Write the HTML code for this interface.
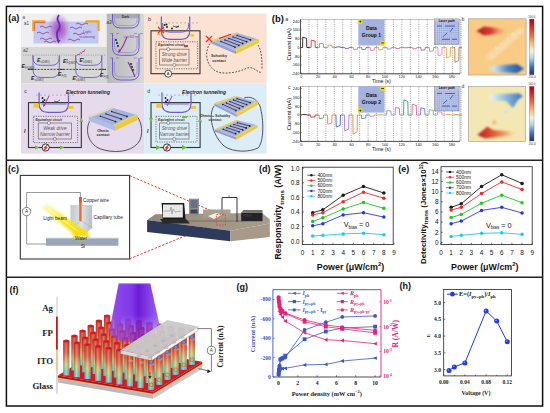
<!DOCTYPE html>
<html><head><meta charset="utf-8"><style>html,body{margin:0;padding:0;background:#fff;width:550px;height:413px;overflow:hidden}svg{display:block}</style></head>
<body><svg width="550" height="413" viewBox="0 0 550 413"><rect x="0" y="0" width="550" height="413" fill="#fff"/>
<rect x="6.4" y="6.4" width="536.2" height="399.6" fill="none" stroke="#111" stroke-width="1.5"/>
<line x1="6" y1="160.3" x2="543" y2="160.3" stroke="#222" stroke-width="1.4"/>
<line x1="6" y1="277.2" x2="543" y2="277.2" stroke="#222" stroke-width="1.4"/>
<rect x="21" y="13.6" width="85.7" height="33.2" fill="#efeff2"/>
<rect x="21" y="46.8" width="85.7" height="36.6" fill="#d7d7d8"/>
<defs><linearGradient id="ga3" x1="0" y1="0" x2="1" y2="0"><stop offset="0" stop-color="#b9b9ba"/><stop offset="0.6" stop-color="#c9c9ca"/><stop offset="1" stop-color="#d9d9da"/></linearGradient><radialGradient id="beam" cx="0.5" cy="0.5" r="0.5"><stop offset="0" stop-color="#9a3ab8" stop-opacity="0.95"/><stop offset="0.5" stop-color="#b060c8" stop-opacity="0.65"/><stop offset="1" stop-color="#d0a0e0" stop-opacity="0"/></radialGradient></defs>
<rect x="106.7" y="13.6" width="37.5" height="69.8" fill="url(#ga3)"/>
<rect x="144.2" y="13.6" width="122.4" height="69.9" fill="#fce2d2"/>
<rect x="21" y="83.4" width="123.2" height="70.2" fill="#e5dbec"/>
<rect x="144.2" y="83.5" width="122.4" height="70.1" fill="#dcedf7"/>
<text x="22.50" y="18.60" text-anchor="start" style="font-family:'Liberation Sans',sans-serif;font-weight:normal;font-size:4.5px" fill="#444">a</text>
<text x="24.00" y="25.00" text-anchor="start" style="font-family:'Liberation Sans',sans-serif;font-weight:normal;font-size:4.5px" fill="#444">a1</text>
<rect x="33.5" y="21.6" width="65" height="21.9" fill="#c3c9ec"/>
<path d="M33.3,31 L33.3,21.3 L45.5,21.3" fill="none" stroke="#f7a21e" stroke-width="2.2"/>
<path d="M34.6,31 L34.6,22.6 L45.5,22.6" fill="none" stroke="#e8402a" stroke-width="0.7"/>
<path d="M98.5,31 L98.5,21.3 L85.5,21.3" fill="none" stroke="#f7a21e" stroke-width="2.2"/>
<ellipse cx="59" cy="29.5" rx="12.5" ry="17" fill="url(#beam)"/>
<path d="M59,15 Q56,19 59,23 Q61,27 57.5,31 Q56,36 58.5,41" fill="none" stroke="#6a2aa8" stroke-width="1.8"/><path d="M56.5,40 L60.5,40 L58.5,43.5 Z" fill="#6a2aa8"/>
<path d="M40,27 q2,-2 4,0 q2,2 4,0 q2,-2 4,0" fill="none" stroke="#8a2a9c" stroke-width="0.75"/>
<path d="M37,33 q2,-2 4,0 q2,2 4,0 q2,-2 4,0" fill="none" stroke="#8a2a9c" stroke-width="0.75"/>
<path d="M40,39 q2,-2 4,0 q2,2 4,0 q2,-2 4,0" fill="none" stroke="#8a2a9c" stroke-width="0.75"/>
<path d="M44,42 q2,-2 4,0 q2,2 4,0 q2,-2 4,0" fill="none" stroke="#8a2a9c" stroke-width="0.75"/>
<path d="M70,28 q2,-2 4,0 q2,2 4,0 q2,-2 4,0" fill="none" stroke="#8a2a9c" stroke-width="0.75"/>
<path d="M73,34 q2,-2 4,0 q2,2 4,0 q2,-2 4,0" fill="none" stroke="#8a2a9c" stroke-width="0.75"/>
<path d="M68,40 q2,-2 4,0 q2,2 4,0 q2,-2 4,0" fill="none" stroke="#8a2a9c" stroke-width="0.75"/>
<path d="M76,24 q2,-2 4,0 q2,2 4,0 q2,-2 4,0" fill="none" stroke="#8a2a9c" stroke-width="0.75"/>
<text x="87.00" y="33.00" text-anchor="middle" style="font-family:'Liberation Sans',sans-serif;font-weight:normal;font-size:3.6px" fill="#7a3ab0">Light</text>
<text x="87.00" y="37.50" text-anchor="middle" style="font-family:'Liberation Sans',sans-serif;font-weight:normal;font-size:3.6px" fill="#7a3ab0">scattering</text>
<text x="23.00" y="51.50" text-anchor="start" style="font-family:'Liberation Sans',sans-serif;font-weight:normal;font-size:4.5px;font-style:italic" fill="#444">a2</text>
<line x1="23" y1="55.1" x2="106" y2="55.1" stroke="#777" stroke-width="0.6" stroke-dasharray="0.8,1"/>
<line x1="28" y1="69.4" x2="106" y2="69.4" stroke="#333" stroke-width="0.9" stroke-dasharray="2,1.2"/>
<line x1="28" y1="69.4" x2="34" y2="69.4" stroke="#333" stroke-width="0.9"/><line x1="58" y1="69.4" x2="64" y2="69.4" stroke="#333" stroke-width="0.9"/><line x1="100" y1="69.4" x2="106" y2="69.4" stroke="#333" stroke-width="0.9"/>
<path d="M33,55.5 L33,57.46 Q33,65.3 40.839999999999996,65.3 L51.46,65.3 Q59.3,65.3 59.3,57.46 L59.3,55.5" fill="none" stroke="#6b5bd0" stroke-width="0.9"/>
<path d="M33,55.5 L33,69.61 Q33,77.5 40.89,77.5 L51.41,77.5 Q59.3,77.5 59.3,69.61 L59.3,55.5" fill="none" stroke="#6b5bd0" stroke-width="0.9"/>
<path d="M75.6,55.5 L75.6,57.46 Q75.6,65.3 83.44,65.3 L93.96,65.3 Q101.8,65.3 101.8,57.46 L101.8,55.5" fill="none" stroke="#6b5bd0" stroke-width="0.9"/>
<path d="M75.6,55.5 L75.6,69.64 Q75.6,77.5 83.46,77.5 L93.94,77.5 Q101.8,77.5 101.8,69.64 L101.8,55.5" fill="none" stroke="#6b5bd0" stroke-width="0.9"/>
<text x="37.00" y="61.50" text-anchor="start" style="font-family:'Liberation Sans',sans-serif;font-weight:bold;font-size:5px;font-style:italic" fill="#222">E</text>
<text x="40.60" y="62.90" text-anchor="start" style="font-family:'Liberation Sans',sans-serif;font-weight:normal;font-size:2.6px" fill="#333">v(DMO)</text>
<text x="21.50" y="68.00" text-anchor="start" style="font-family:'Liberation Sans',sans-serif;font-weight:bold;font-size:5px;font-style:italic" fill="#222">E</text>
<text x="25.10" y="69.40" text-anchor="start" style="font-family:'Liberation Sans',sans-serif;font-weight:normal;font-size:2.6px" fill="#333">F(DMO)</text>
<text x="31.00" y="79.50" text-anchor="start" style="font-family:'Liberation Sans',sans-serif;font-weight:bold;font-size:5px;font-style:italic" fill="#222">E</text>
<text x="34.60" y="80.90" text-anchor="start" style="font-family:'Liberation Sans',sans-serif;font-weight:normal;font-size:2.6px" fill="#333">v(DMO)</text>
<text x="58.00" y="76.00" text-anchor="start" style="font-family:'Liberation Sans',sans-serif;font-weight:bold;font-size:5px;font-style:italic" fill="#222">E</text>
<text x="61.60" y="77.40" text-anchor="start" style="font-family:'Liberation Sans',sans-serif;font-weight:normal;font-size:2.6px" fill="#333">F(S)</text>
<text x="63.00" y="63.00" text-anchor="start" style="font-family:'Liberation Sans',sans-serif;font-weight:bold;font-size:5px;font-style:italic" fill="#222">E'</text>
<text x="66.60" y="64.40" text-anchor="start" style="font-family:'Liberation Sans',sans-serif;font-weight:normal;font-size:2.6px" fill="#333">F(DMO)</text>
<text x="79.50" y="61.50" text-anchor="start" style="font-family:'Liberation Sans',sans-serif;font-weight:bold;font-size:5px;font-style:italic" fill="#222">E'</text>
<text x="83.10" y="62.90" text-anchor="start" style="font-family:'Liberation Sans',sans-serif;font-weight:normal;font-size:2.6px" fill="#333">v(DMO)</text>
<text x="72.50" y="79.50" text-anchor="start" style="font-family:'Liberation Sans',sans-serif;font-weight:bold;font-size:5px;font-style:italic" fill="#222">E'</text>
<text x="76.10" y="80.90" text-anchor="start" style="font-family:'Liberation Sans',sans-serif;font-weight:normal;font-size:2.6px" fill="#333">v(DMO)</text>
<text x="100.00" y="77.00" text-anchor="start" style="font-family:'Liberation Sans',sans-serif;font-weight:bold;font-size:5px;font-style:italic" fill="#222">E</text>
<text x="103.60" y="78.40" text-anchor="start" style="font-family:'Liberation Sans',sans-serif;font-weight:normal;font-size:2.6px" fill="#333">F(S)</text>
<path d="M76.5,56 l1.5,-2 l1,1 l1.5,-2.5 l1,1 l1.5,-2.5 l1,0.8 l1,-2.5" fill="none" stroke="#9a2aa0" stroke-width="0.7"/>
<text x="106.50" y="24.00" text-anchor="start" style="font-family:'Liberation Sans',sans-serif;font-weight:normal;font-size:4.5px;font-style:italic" fill="#333">a3</text>
<rect x="113" y="13.8" width="25.5" height="4.5" fill="#a8a8b0"/>
<path d="M112.5,13.8 L112.5,20.05 Q112.5,28 120.45,28 L131.05,28 Q139,28 139,20.05 L139,13.8" fill="none" stroke="#6b5bd0" stroke-width="1.0"/>
<path d="M114.5,18.5 L114.5,19.9 Q114.5,25.5 120.1,25.5 L131.4,25.5 Q137,25.5 137,19.9 L137,18.5" fill="none" stroke="#8878d8" stroke-width="0.6"/>
<text x="125.50" y="18.00" text-anchor="middle" style="font-family:'Liberation Sans',sans-serif;font-weight:bold;font-size:3.4px" fill="#333">Dark</text>
<path d="M112.5,33.6 L112.5,47.349999999999994 Q112.5,55.3 120.45,55.3 L131.05,55.3 Q139,55.3 139,47.349999999999994 L139,33.6" fill="none" stroke="#6b5bd0" stroke-width="1.0"/>
<path d="M114.5,38 L114.5,45.75 Q114.5,52.5 121.25,52.5 L130.25,52.5 Q137,52.5 137,45.75 L137,38" fill="none" stroke="#8878d8" stroke-width="0.6"/>
<path d="M112.5,58 L112.5,72.05 Q112.5,80 120.45,80 L131.05,80 Q139,80 139,72.05 L139,58" fill="none" stroke="#6b5bd0" stroke-width="1.0"/>
<path d="M114.5,62 L114.5,70.25 Q114.5,77 121.25,77 L130.25,77 Q137,77 137,70.25 L137,62" fill="none" stroke="#8878d8" stroke-width="0.6"/>
<path d="M110,33.6 h3 M116,33.6 h3 M134,33.6 h3 M140,33.6 h3 M110,58 h3 M116,58 h3 M134,58 h3 M140,58 h3" stroke="#6b5bd0" stroke-width="0.6"/>
<text x="131.00" y="37.50" text-anchor="middle" style="font-family:'Liberation Sans',sans-serif;font-weight:normal;font-size:2.6px" fill="#8a3ab0">Light 808 nm</text>
<path d="M127,37 L123,46 L119,52" fill="none" stroke="#8a2ab0" stroke-width="1.1"/><path d="M118,53 l1,-4 l2,2z" fill="#8a2ab0"/>
<path d="M128,62 L133,72 L135,77" fill="none" stroke="#8a2ab0" stroke-width="1.1"/>
<circle cx="116" cy="40" r="0.9" fill="#111"/>
<circle cx="117" cy="43" r="0.9" fill="#111"/>
<circle cx="118" cy="46" r="0.9" fill="#111"/>
<circle cx="131" cy="64" r="0.9" fill="#111"/>
<circle cx="132" cy="67" r="0.9" fill="#111"/>
<circle cx="133" cy="70" r="0.9" fill="#111"/>
<text x="148.00" y="20.50" text-anchor="start" style="font-family:'Liberation Sans',sans-serif;font-weight:normal;font-size:5.5px" fill="#333">b</text>
<rect x="151" y="30.8" width="49" height="42.900000000000006" fill="none" stroke="#333" stroke-width="1.1"/>
<rect x="156" y="41.8" width="41.69999999999999" height="27.0" fill="none" stroke="#555" stroke-width="0.8" stroke-dasharray="1.2,1.2"/>
<rect x="159.6" y="49.2" width="29.400000000000006" height="15.799999999999997" fill="none" stroke="#777" stroke-width="0.8"/>
<text x="174.30" y="56.00" text-anchor="middle" style="font-family:'Liberation Sans',sans-serif;font-weight:normal;font-size:4.7px;font-style:italic" fill="#585858">Strong drive</text>
<text x="174.30" y="62.00" text-anchor="middle" style="font-family:'Liberation Sans',sans-serif;font-weight:normal;font-size:4.7px;font-style:italic" fill="#585858">Wide barrier</text>
<text x="158.00" y="46.40" text-anchor="start" style="font-family:'Liberation Sans',sans-serif;font-weight:bold;font-size:3.2px;font-style:italic" fill="#333">Equivalent circuit</text>
<circle cx="168.3" cy="49.2" r="1.6" fill="#eee" stroke="#666" stroke-width="0.6"/>
<circle cx="174.3" cy="65" r="1.6" fill="#eee" stroke="#666" stroke-width="0.6"/>
<circle cx="168.2" cy="73.7" r="3.5" fill="#fff" stroke="#222" stroke-width="0.8"/>
<text x="168.20" y="75.20" text-anchor="middle" style="font-family:'Liberation Sans',sans-serif;font-weight:normal;font-size:4px" fill="#111">A</text>
<rect x="184" y="45" width="4" height="2" fill="#e33"/>
<rect x="157" y="32.6" width="3.6" height="2.6" fill="#f0c830"/><rect x="190.3" y="34.3" width="3.7" height="2.4" fill="#f0c830"/>
<path d="M161.4,16.4 L161.4,30.810000000000002 Q161.4,39.3 169.89,39.3 L181.20999999999998,39.3 Q189.7,39.3 189.7,30.810000000000002 L189.7,16.4" fill="none" stroke="#6b5bd0" stroke-width="1.2"/>
<path d="M162.5,22.9 L162.5,24.759999999999998 Q162.5,32.2 169.94,32.2 L181.16,32.2 Q188.6,32.2 188.6,24.759999999999998 L188.6,22.9" fill="none" stroke="#6b5bd0" stroke-width="0.9"/>
<line x1="156" y1="22.9" x2="198" y2="22.9" stroke="#a8a0e0" stroke-width="0.8" stroke-dasharray="2,2"/>
<path d="M173,26 q3,2 6,0 M176,27.5 l3,-1" stroke="#222" stroke-width="0.7" fill="none"/>
<path d="M158,27 l6,6 M164,27 l-6,6" stroke="#e32" stroke-width="1.3"/>
<circle cx="164.5" cy="25" r="0.9" fill="#111"/>
<circle cx="166.5" cy="24.5" r="0.9" fill="#111"/>
<circle cx="167" cy="27" r="0.9" fill="#111"/>
<circle cx="172" cy="28.5" r="0.9" fill="#111"/>
<path d="M212,41 C205,48 204,62 214,70 C222,76 240,72 247,68 C255,66 258,74 262,72" fill="none" stroke="#444" stroke-width="0.9" stroke-dasharray="1.8,1.4"/>
<path d="M258,45 C262,52 262,60 262,70" fill="none" stroke="#444" stroke-width="0.9" stroke-dasharray="1.8,1.4"/>
<polygon points="211.4,40.6 236,51 236,54 211.4,43.6" fill="#95a0d4"/>
<polygon points="236,51 259,39.5 259,42.5 236,54" fill="#eccb3a"/>
<polygon points="211.4,40.6 236,32.4 259,39.5 236,51" fill="#abb4e4"/>
<polygon points="211.4,40.6 236,32.4 238.3,33.1 213.9,41.6" fill="#f1d34a"/>
<polygon points="236,51 259,39.5 256.9,38.9 233.8,50.1" fill="#f1d34a"/>
<line x1="220.9" y1="41.4" x2="235.0" y2="47.1" stroke="#222" stroke-width="0.75"/>
<circle cx="220.9" cy="41.4" r="0.75" fill="#222"/>
<circle cx="235.0" cy="47.1" r="0.9" fill="#222"/>
<line x1="224.9" y1="39.9" x2="238.9" y2="45.3" stroke="#222" stroke-width="0.75"/>
<circle cx="224.9" cy="39.9" r="0.75" fill="#222"/>
<circle cx="238.9" cy="45.3" r="0.9" fill="#222"/>
<line x1="228.9" y1="38.4" x2="242.7" y2="43.5" stroke="#222" stroke-width="0.75"/>
<circle cx="228.9" cy="38.4" r="0.75" fill="#222"/>
<circle cx="242.7" cy="43.5" r="0.9" fill="#222"/>
<line x1="233.0" y1="36.9" x2="246.6" y2="41.7" stroke="#222" stroke-width="0.75"/>
<circle cx="233.0" cy="36.9" r="0.75" fill="#222"/>
<circle cx="246.6" cy="41.7" r="0.9" fill="#222"/>
<line x1="237.0" y1="35.4" x2="250.5" y2="39.9" stroke="#222" stroke-width="0.75"/>
<circle cx="237.0" cy="35.4" r="0.75" fill="#222"/>
<circle cx="250.5" cy="39.9" r="0.9" fill="#222"/>
<line x1="219" y1="38.5" x2="231" y2="34.3" stroke="#e82020" stroke-width="1.1"/>
<path d="M206,36 l6,6 M212,36 l-6,6" stroke="#e32" stroke-width="1.3"/>
<text x="219.00" y="57.00" text-anchor="middle" style="font-family:'Liberation Sans',sans-serif;font-weight:bold;font-size:3.8px" fill="#333">Schottky</text>
<text x="219.00" y="61.50" text-anchor="middle" style="font-family:'Liberation Sans',sans-serif;font-weight:bold;font-size:3.8px" fill="#333">contact</text>
<text x="24.30" y="92.60" text-anchor="start" style="font-family:'Liberation Sans',sans-serif;font-weight:normal;font-size:5px" fill="#333">c</text>
<text x="88.00" y="94.00" text-anchor="middle" style="font-family:'Liberation Sans',sans-serif;font-weight:bold;font-size:5px;font-style:italic" fill="#222">Electron tunneling</text>
<rect x="28.5" y="102.6" width="52.8" height="44.900000000000006" fill="none" stroke="#333" stroke-width="1.1"/>
<rect x="33.4" y="116.3" width="44.199999999999996" height="26.299999999999997" fill="none" stroke="#555" stroke-width="0.8" stroke-dasharray="1.2,1.2"/>
<rect x="38.3" y="123" width="33.2" height="16" fill="none" stroke="#777" stroke-width="0.8"/>
<text x="54.90" y="129.80" text-anchor="middle" style="font-family:'Liberation Sans',sans-serif;font-weight:normal;font-size:4.7px;font-style:italic" fill="#585858">Weak drive</text>
<text x="54.90" y="135.80" text-anchor="middle" style="font-family:'Liberation Sans',sans-serif;font-weight:normal;font-size:4.7px;font-style:italic" fill="#585858">Narrow barrier</text>
<text x="35.40" y="120.90" text-anchor="start" style="font-family:'Liberation Sans',sans-serif;font-weight:bold;font-size:3.2px;font-style:italic" fill="#333">Equivalent circuit</text>
<circle cx="48.9" cy="123" r="1.6" fill="#eee" stroke="#666" stroke-width="0.6"/>
<circle cx="54.9" cy="139" r="1.6" fill="#eee" stroke="#666" stroke-width="0.6"/>
<circle cx="45.7" cy="147.5" r="3.6" fill="#fff" stroke="#222" stroke-width="0.9"/>
<path d="M47.300000000000004,145.1 L44.5,147.7 L46.5,147.9 L44.1,150.1" fill="none" stroke="#e32020" stroke-width="1.2"/>
<path d="M39.1,92.5 L39.1,103.50999999999999 Q39.1,112.3 47.89,112.3 L59.61000000000001,112.3 Q68.4,112.3 68.4,103.50999999999999 L68.4,92.5" fill="none" stroke="#6b5bd0" stroke-width="1.2"/>
<path d="M41,104 L66.5,104" stroke="#6b5bd0" stroke-width="0.9"/>
<line x1="36" y1="95.1" x2="76" y2="95.1" stroke="#a8a0e0" stroke-width="0.8" stroke-dasharray="2,2"/>
<rect x="33.4" y="104" width="5.7" height="3.8" fill="#f0c830"/><rect x="68.4" y="106" width="5.1" height="3" fill="#f0c830"/>
<path d="M49,96 L44,106" stroke="#8a2ab0" stroke-width="0.9"/><path d="M43,107 l0.5,-3 l2,1.2z" fill="#8a2ab0"/>
<path d="M54,101 q3,2 6,-1" stroke="#222" stroke-width="0.6" fill="none"/>
<path d="M92,118 C84,126 86,146 104,150 C120,154 135,150 140,140 C144,130 140,118 136,116" fill="none" stroke="#444" stroke-width="0.9"/>
<polygon points="88.8,116.4 115,126.2 115,130.7 88.8,120.9" fill="#b0bce8"/>
<polygon points="115,126.2 137.9,115.3 137.9,119.8 115,130.7" fill="#eccb3a"/>
<polygon points="88.8,116.4 111.7,107.6 137.9,115.3 115,126.2" fill="#a6b2e2"/>
<polygon points="88.8,116.4 111.7,107.6 113.8,108.2 90.9,117.2" fill="#e8e0a0"/>
<polygon points="115,126.2 137.9,115.3 135.5,114.6 112.6,125.3" fill="#f1d34a"/>
<line x1="100.3" y1="116.2" x2="115.5" y2="121.6" stroke="#222" stroke-width="0.75"/>
<circle cx="100.3" cy="116.2" r="0.75" fill="#222"/>
<circle cx="115.5" cy="121.6" r="0.9" fill="#222"/>
<line x1="106.0" y1="113.9" x2="121.2" y2="119.0" stroke="#222" stroke-width="0.75"/>
<circle cx="106.0" cy="113.9" r="0.75" fill="#222"/>
<circle cx="121.2" cy="119.0" r="0.9" fill="#222"/>
<line x1="111.7" y1="111.6" x2="126.9" y2="116.4" stroke="#222" stroke-width="0.75"/>
<circle cx="111.7" cy="111.6" r="0.75" fill="#222"/>
<circle cx="126.9" cy="116.4" r="0.9" fill="#222"/>
<text x="103.00" y="132.00" text-anchor="middle" style="font-family:'Liberation Sans',sans-serif;font-weight:bold;font-size:3.7px" fill="#333">Ohmic</text>
<text x="103.00" y="136.30" text-anchor="middle" style="font-family:'Liberation Sans',sans-serif;font-weight:bold;font-size:3.7px" fill="#333">contact</text>
<circle cx="42.5" cy="98" r="0.9" fill="#111"/>
<circle cx="44.5" cy="100" r="0.9" fill="#111"/>
<circle cx="43" cy="101.5" r="0.9" fill="#111"/>
<polygon points="39,147.5 35,145.3 35,149.7" fill="#6cc04a"/><polygon points="64,147.5 60,145.3 60,149.7" fill="#6cc04a"/><polygon points="81.3,118 79.3,122 83.3,122" fill="#6cc04a"/>
<text x="24.00" y="133.00" text-anchor="start" style="font-family:'Liberation Sans',sans-serif;font-weight:bold;font-size:5px;font-style:italic" fill="#222">I</text>
<text x="147.20" y="92.60" text-anchor="start" style="font-family:'Liberation Sans',sans-serif;font-weight:normal;font-size:5px" fill="#333">d</text>
<text x="204.00" y="94.00" text-anchor="middle" style="font-family:'Liberation Sans',sans-serif;font-weight:bold;font-size:5px;font-style:italic" fill="#222">Electron tunneling</text>
<rect x="151" y="102.6" width="49.099999999999994" height="44.900000000000006" fill="none" stroke="#333" stroke-width="1.1"/>
<rect x="156" y="116.3" width="41" height="25.700000000000003" fill="none" stroke="#555" stroke-width="0.8" stroke-dasharray="1.2,1.2"/>
<rect x="159.6" y="123" width="29.400000000000006" height="16" fill="none" stroke="#777" stroke-width="0.8"/>
<text x="174.30" y="129.80" text-anchor="middle" style="font-family:'Liberation Sans',sans-serif;font-weight:normal;font-size:4.7px;font-style:italic" fill="#585858">Strong drive</text>
<text x="174.30" y="135.80" text-anchor="middle" style="font-family:'Liberation Sans',sans-serif;font-weight:normal;font-size:4.7px;font-style:italic" fill="#585858">Narrow barrier</text>
<text x="158.00" y="120.90" text-anchor="start" style="font-family:'Liberation Sans',sans-serif;font-weight:bold;font-size:3.2px;font-style:italic" fill="#333">Equivalent circuit</text>
<circle cx="168.3" cy="123" r="1.6" fill="#eee" stroke="#666" stroke-width="0.6"/>
<circle cx="174.3" cy="139" r="1.6" fill="#eee" stroke="#666" stroke-width="0.6"/>
<circle cx="167" cy="147.5" r="3.6" fill="#fff" stroke="#222" stroke-width="0.9"/>
<path d="M168.6,145.1 L165.8,147.7 L167.8,147.9 L165.4,150.1" fill="none" stroke="#e32020" stroke-width="1.2"/>
<path d="M162,92.5 L162,103.6 Q162,112.3 170.7,112.3 L182.3,112.3 Q191,112.3 191,103.6 L191,92.5" fill="none" stroke="#6b5bd0" stroke-width="1.2"/>
<path d="M164,104 L189,104" stroke="#6b5bd0" stroke-width="0.9"/>
<line x1="158" y1="95.1" x2="198" y2="95.1" stroke="#a8a0e0" stroke-width="0.8" stroke-dasharray="2,2"/>
<rect x="156.3" y="104" width="5.7" height="3.8" fill="#f0c830"/><rect x="191" y="106" width="5.1" height="3" fill="#f0c830"/>
<path d="M172,96 L167,106" stroke="#8a2ab0" stroke-width="0.9"/>
<circle cx="165.5" cy="98" r="0.9" fill="#111"/>
<circle cx="167.5" cy="100" r="0.9" fill="#111"/>
<circle cx="166" cy="101.5" r="0.9" fill="#111"/>
<rect x="182" y="116" width="5" height="2" fill="#6cc04a"/>
<path d="M214,106 C208,115 212,135 224,146 C234,153 250,152 258,148 C264,142 264,120 260,106 C256,98 250,96 244,98" fill="none" stroke="#444" stroke-width="0.9"/>
<polygon points="214.3,103.3 236.9,114.6 236.9,117.1 214.3,105.8" fill="#95a0d4"/>
<polygon points="236.9,114.6 258.2,102 258.2,104.5 236.9,117.1" fill="#eccb3a"/>
<polygon points="214.3,103.3 235.6,96 258.2,102 236.9,114.6" fill="#abb4e4"/>
<polygon points="214.3,103.3 235.6,96 237.9,96.6 216.6,104.4" fill="#f1d34a"/>
<polygon points="236.9,114.6 258.2,102 256.2,101.5 234.9,113.6" fill="#f1d34a"/>
<line x1="222.8" y1="104.4" x2="235.9" y2="110.4" stroke="#222" stroke-width="0.75"/>
<circle cx="222.8" cy="104.4" r="0.75" fill="#222"/>
<circle cx="235.9" cy="110.4" r="0.9" fill="#222"/>
<line x1="226.4" y1="103.0" x2="239.5" y2="108.5" stroke="#222" stroke-width="0.75"/>
<circle cx="226.4" cy="103.0" r="0.75" fill="#222"/>
<circle cx="239.5" cy="108.5" r="0.9" fill="#222"/>
<line x1="229.9" y1="101.6" x2="243.0" y2="106.6" stroke="#222" stroke-width="0.75"/>
<circle cx="229.9" cy="101.6" r="0.75" fill="#222"/>
<circle cx="243.0" cy="106.6" r="0.9" fill="#222"/>
<line x1="233.5" y1="100.1" x2="246.6" y2="104.6" stroke="#222" stroke-width="0.75"/>
<circle cx="233.5" cy="100.1" r="0.75" fill="#222"/>
<circle cx="246.6" cy="104.6" r="0.9" fill="#222"/>
<line x1="237.0" y1="98.7" x2="250.1" y2="102.7" stroke="#222" stroke-width="0.75"/>
<circle cx="237.0" cy="98.7" r="0.75" fill="#222"/>
<circle cx="250.1" cy="102.7" r="0.9" fill="#222"/>
<polygon points="215,129.2 236.3,137.2 236.3,139.7 215,131.7" fill="#95a0d4"/>
<polygon points="236.3,137.2 257.5,125.2 257.5,127.7 236.3,139.7" fill="#eccb3a"/>
<polygon points="215,129.2 236.3,119.9 257.5,125.2 236.3,137.2" fill="#abb4e4"/>
<polygon points="215,129.2 236.3,119.9 238.4,120.4 217.1,130.0" fill="#f1d34a"/>
<polygon points="236.3,137.2 257.5,125.2 255.6,124.7 234.4,136.5" fill="#f1d34a"/>
<line x1="223.2" y1="129.3" x2="235.6" y2="133.7" stroke="#222" stroke-width="0.75"/>
<circle cx="223.2" cy="129.3" r="0.75" fill="#222"/>
<circle cx="235.6" cy="133.7" r="0.9" fill="#222"/>
<line x1="226.8" y1="127.7" x2="239.1" y2="131.8" stroke="#222" stroke-width="0.75"/>
<circle cx="226.8" cy="127.7" r="0.75" fill="#222"/>
<circle cx="239.1" cy="131.8" r="0.9" fill="#222"/>
<line x1="230.3" y1="126.0" x2="242.7" y2="129.9" stroke="#222" stroke-width="0.75"/>
<circle cx="230.3" cy="126.0" r="0.75" fill="#222"/>
<circle cx="242.7" cy="129.9" r="0.9" fill="#222"/>
<line x1="233.9" y1="124.4" x2="246.2" y2="128.0" stroke="#222" stroke-width="0.75"/>
<circle cx="233.9" cy="124.4" r="0.75" fill="#222"/>
<circle cx="246.2" cy="128.0" r="0.9" fill="#222"/>
<line x1="237.4" y1="122.7" x2="249.7" y2="126.0" stroke="#222" stroke-width="0.75"/>
<circle cx="237.4" cy="122.7" r="0.75" fill="#222"/>
<circle cx="249.7" cy="126.0" r="0.9" fill="#222"/>
<text x="215.00" y="116.50" text-anchor="middle" style="font-family:'Liberation Sans',sans-serif;font-weight:bold;font-size:3.6px" fill="#333">Ohmic + Schottky</text>
<text x="215.00" y="120.80" text-anchor="middle" style="font-family:'Liberation Sans',sans-serif;font-weight:bold;font-size:3.6px" fill="#333">contact</text>
<polygon points="161,147.5 156,145 156,150" fill="#6cc04a"/><polygon points="187,147.5 182,145 182,150" fill="#6cc04a"/><polygon points="151,123 149,118 153,118" fill="#6cc04a"/><polygon points="200.1,118 198,122 202.2,122" fill="#6cc04a"/>
<text x="147.00" y="133.00" text-anchor="start" style="font-family:'Liberation Sans',sans-serif;font-weight:bold;font-size:5px;font-style:italic" fill="#222">I</text>
<text x="285.30" y="20.80" text-anchor="start" style="font-family:'Liberation Sans',sans-serif;font-weight:normal;font-size:5.4px" fill="#333">a</text>
<text x="288.00" y="88.60" text-anchor="start" style="font-family:'Liberation Sans',sans-serif;font-weight:normal;font-size:5px" fill="#333">c</text>
<rect x="300.5" y="19.6" width="159.5" height="54.199999999999996" fill="#fff" stroke="#999" stroke-width="0.6"/>
<line x1="308.92" y1="19.6" x2="308.92" y2="73.8" stroke="#666" stroke-width="0.6" stroke-dasharray="1,1.2"/>
<line x1="317.37" y1="19.6" x2="317.37" y2="73.8" stroke="#666" stroke-width="0.6" stroke-dasharray="1,1.2"/>
<line x1="325.82" y1="19.6" x2="325.82" y2="73.8" stroke="#666" stroke-width="0.6" stroke-dasharray="1,1.2"/>
<line x1="334.28" y1="19.6" x2="334.28" y2="73.8" stroke="#666" stroke-width="0.6" stroke-dasharray="1,1.2"/>
<line x1="342.73" y1="19.6" x2="342.73" y2="73.8" stroke="#666" stroke-width="0.6" stroke-dasharray="1,1.2"/>
<line x1="351.19" y1="19.6" x2="351.19" y2="73.8" stroke="#666" stroke-width="0.6" stroke-dasharray="1,1.2"/>
<line x1="359.64" y1="19.6" x2="359.64" y2="73.8" stroke="#666" stroke-width="0.6" stroke-dasharray="1,1.2"/>
<line x1="368.09" y1="19.6" x2="368.09" y2="73.8" stroke="#666" stroke-width="0.6" stroke-dasharray="1,1.2"/>
<line x1="376.55" y1="19.6" x2="376.55" y2="73.8" stroke="#666" stroke-width="0.6" stroke-dasharray="1,1.2"/>
<line x1="385.00" y1="19.6" x2="385.00" y2="73.8" stroke="#666" stroke-width="0.6" stroke-dasharray="1,1.2"/>
<line x1="393.45" y1="19.6" x2="393.45" y2="73.8" stroke="#666" stroke-width="0.6" stroke-dasharray="1,1.2"/>
<line x1="401.91" y1="19.6" x2="401.91" y2="73.8" stroke="#666" stroke-width="0.6" stroke-dasharray="1,1.2"/>
<line x1="410.36" y1="19.6" x2="410.36" y2="73.8" stroke="#666" stroke-width="0.6" stroke-dasharray="1,1.2"/>
<line x1="418.81" y1="19.6" x2="418.81" y2="73.8" stroke="#666" stroke-width="0.6" stroke-dasharray="1,1.2"/>
<line x1="427.27" y1="19.6" x2="427.27" y2="73.8" stroke="#666" stroke-width="0.6" stroke-dasharray="1,1.2"/>
<line x1="435.72" y1="19.6" x2="435.72" y2="73.8" stroke="#666" stroke-width="0.6" stroke-dasharray="1,1.2"/>
<line x1="444.18" y1="19.6" x2="444.18" y2="73.8" stroke="#666" stroke-width="0.6" stroke-dasharray="1,1.2"/>
<line x1="452.63" y1="19.6" x2="452.63" y2="73.8" stroke="#666" stroke-width="0.6" stroke-dasharray="1,1.2"/>
<line x1="461.08" y1="19.6" x2="461.08" y2="73.8" stroke="#666" stroke-width="0.6" stroke-dasharray="1,1.2"/>
<rect x="358.3" y="19.5" width="26.2" height="26.0" fill="#a3b2df"/>
<text x="371.40" y="30.30" text-anchor="middle" style="font-family:'Liberation Sans',sans-serif;font-weight:bold;font-size:5.0px" fill="#111">Data</text>
<text x="371.40" y="36.70" text-anchor="middle" style="font-family:'Liberation Sans',sans-serif;font-weight:bold;font-size:5.0px" fill="#111">Group 1</text>
<rect x="357.8" y="19.5" width="4.6" height="4.3" fill="#f3e000"/><text x="360.1" y="23.2" text-anchor="middle" style="font-family:'Liberation Sans',sans-serif;font-weight:bold;font-size:5px">+</text>
<rect x="380.2" y="40.9" width="4.8" height="4" fill="#f3e000"/><line x1="381.2" y1="42.9" x2="384" y2="42.9" stroke="#111" stroke-width="0.8"/>
<g><rect x="434.5" y="18.9" width="24.5" height="25.5" fill="#98a9dc" stroke="#666" stroke-width="0.4"/>
<line x1="436.5" y1="18.9" x2="436.5" y2="44.4" stroke="#e4e8f6" stroke-width="0.35"/>
<line x1="438.6" y1="18.9" x2="438.6" y2="44.4" stroke="#e4e8f6" stroke-width="0.35"/>
<line x1="440.6" y1="18.9" x2="440.6" y2="44.4" stroke="#e4e8f6" stroke-width="0.35"/>
<line x1="442.7" y1="18.9" x2="442.7" y2="44.4" stroke="#e4e8f6" stroke-width="0.35"/>
<line x1="444.7" y1="18.9" x2="444.7" y2="44.4" stroke="#e4e8f6" stroke-width="0.35"/>
<line x1="446.8" y1="18.9" x2="446.8" y2="44.4" stroke="#e4e8f6" stroke-width="0.35"/>
<line x1="448.8" y1="18.9" x2="448.8" y2="44.4" stroke="#e4e8f6" stroke-width="0.35"/>
<line x1="450.8" y1="18.9" x2="450.8" y2="44.4" stroke="#e4e8f6" stroke-width="0.35"/>
<line x1="452.9" y1="18.9" x2="452.9" y2="44.4" stroke="#e4e8f6" stroke-width="0.35"/>
<line x1="454.9" y1="18.9" x2="454.9" y2="44.4" stroke="#e4e8f6" stroke-width="0.35"/>
<line x1="457.0" y1="18.9" x2="457.0" y2="44.4" stroke="#e4e8f6" stroke-width="0.35"/>
<line x1="434.5" y1="21.0" x2="459" y2="21.0" stroke="#e4e8f6" stroke-width="0.35"/>
<line x1="434.5" y1="23.1" x2="459" y2="23.1" stroke="#e4e8f6" stroke-width="0.35"/>
<line x1="434.5" y1="25.3" x2="459" y2="25.3" stroke="#e4e8f6" stroke-width="0.35"/>
<line x1="434.5" y1="27.4" x2="459" y2="27.4" stroke="#e4e8f6" stroke-width="0.35"/>
<line x1="434.5" y1="29.5" x2="459" y2="29.5" stroke="#e4e8f6" stroke-width="0.35"/>
<line x1="434.5" y1="31.6" x2="459" y2="31.6" stroke="#e4e8f6" stroke-width="0.35"/>
<line x1="434.5" y1="33.8" x2="459" y2="33.8" stroke="#e4e8f6" stroke-width="0.35"/>
<line x1="434.5" y1="35.9" x2="459" y2="35.9" stroke="#e4e8f6" stroke-width="0.35"/>
<line x1="434.5" y1="38.0" x2="459" y2="38.0" stroke="#e4e8f6" stroke-width="0.35"/>
<line x1="434.5" y1="40.1" x2="459" y2="40.1" stroke="#e4e8f6" stroke-width="0.35"/>
<line x1="434.5" y1="42.3" x2="459" y2="42.3" stroke="#e4e8f6" stroke-width="0.35"/>
<rect x="434.5" y="18.9" width="24.5" height="3.2" fill="#b8c4e8"/>
<text x="446.70" y="21.50" text-anchor="middle" style="font-family:'Liberation Sans',sans-serif;font-weight:bold;font-size:3.2px" fill="#111">Laser path</text>
<path d="M437,26.04 h5 M445,26.04 h10 M453,27.824999999999996 l-3,4 M447,32.925 l-4,4 M442,39.3 h8 M452,39.3 h5" stroke="#3456b0" stroke-width="0.9" fill="none"/></g>
<path d="M301.30,47.50 L302.56,47.50 L302.81,37.13 L306.57,38.37 L306.82,47.50 L309.75,47.50" fill="none" stroke="#111" stroke-width="0.85"/>
<path d="M309.75,47.50 L311.01,47.50 L311.26,40.19 L315.03,41.06 L315.28,47.50 L318.21,47.50" fill="none" stroke="#e2261d" stroke-width="0.85"/>
<path d="M318.21,47.50 L319.46,47.50 L319.71,43.35 L323.48,43.85 L323.73,47.50 L326.66,47.50" fill="none" stroke="#5ab43c" stroke-width="0.85"/>
<path d="M326.66,47.50 L327.92,47.50 L328.17,45.10 L331.93,45.39 L332.19,47.50 L335.11,47.50" fill="none" stroke="#f07f22" stroke-width="0.85"/>
<path d="M335.11,47.50 L336.37,47.50 L336.62,46.84 L340.39,46.92 L340.64,47.50 L343.57,47.50" fill="none" stroke="#2e5fb5" stroke-width="0.85"/>
<path d="M343.57,47.50 L344.82,47.50 L345.08,48.48 L348.84,48.36 L349.09,47.50 L352.02,47.50" fill="none" stroke="#8a5ac8" stroke-width="0.85"/>
<path d="M352.02,47.50 L353.28,47.50 L353.53,49.57 L357.30,49.33 L357.55,47.50 L360.48,47.50" fill="none" stroke="#ee7a2a" stroke-width="0.85"/>
<path d="M360.48,47.50 L361.73,47.50 L361.98,49.57 L365.75,49.33 L366.00,47.50 L368.93,47.50" fill="none" stroke="#2a8ad0" stroke-width="0.85"/>
<path d="M368.93,47.50 L370.19,47.50 L370.44,50.56 L374.20,50.19 L374.45,47.50 L377.38,47.50" fill="none" stroke="#ef70b0" stroke-width="0.85"/>
<path d="M377.38,47.50 L378.64,47.50 L378.89,49.90 L382.66,49.61 L382.91,47.50 L385.84,47.50" fill="none" stroke="#b8a930" stroke-width="0.85"/>
<path d="M385.84,47.50 L387.09,47.50 L387.34,49.14 L391.11,48.94 L391.36,47.50 L394.29,47.50" fill="none" stroke="#8c8ad8" stroke-width="0.85"/>
<path d="M394.29,47.50 L395.55,47.50 L395.80,48.59 L399.56,48.46 L399.81,47.50 L402.74,47.50" fill="none" stroke="#e2608a" stroke-width="0.85"/>
<path d="M402.74,47.50 L404.00,47.50 L404.25,47.72 L408.02,47.69 L408.27,47.50 L411.20,47.50" fill="none" stroke="#2a9a8a" stroke-width="0.85"/>
<path d="M411.20,47.50 L412.45,47.50 L412.70,48.81 L416.47,48.65 L416.72,47.50 L419.65,47.50" fill="none" stroke="#e26a8a" stroke-width="0.85"/>
<path d="M419.65,47.50 L420.91,47.50 L421.16,50.23 L424.92,49.90 L425.18,47.50 L428.11,47.50" fill="none" stroke="#7a6ad8" stroke-width="0.85"/>
<path d="M428.11,47.50 L429.36,47.50 L429.61,51.32 L433.38,50.86 L433.63,47.50 L436.56,47.50" fill="none" stroke="#6ac04a" stroke-width="0.85"/>
<path d="M436.56,47.50 L437.81,47.50 L438.07,55.69 L441.83,54.70 L442.08,47.50 L445.01,47.50" fill="none" stroke="#ef7ab0" stroke-width="0.85"/>
<path d="M445.01,47.50 L446.27,47.50 L446.52,57.87 L450.29,56.63 L450.54,47.50 L453.47,47.50" fill="none" stroke="#f0a030" stroke-width="0.85"/>
<path d="M453.47,47.50 L454.72,47.50 L454.97,62.24 L458.74,60.47 L458.99,47.50 L461.92,47.50" fill="none" stroke="#c07030" stroke-width="0.85"/>
<line x1="300.5" y1="21.30" x2="301.8" y2="21.30" stroke="#333" stroke-width="0.5"/>
<text x="299.50" y="22.70" text-anchor="end" style="font-family:'Liberation Sans',sans-serif;font-weight:normal;font-size:4.0px" fill="#111">240</text>
<line x1="300.5" y1="30.03" x2="301.8" y2="30.03" stroke="#333" stroke-width="0.5"/>
<text x="299.50" y="31.43" text-anchor="end" style="font-family:'Liberation Sans',sans-serif;font-weight:normal;font-size:4.0px" fill="#111">160</text>
<line x1="300.5" y1="38.77" x2="301.8" y2="38.77" stroke="#333" stroke-width="0.5"/>
<text x="299.50" y="40.17" text-anchor="end" style="font-family:'Liberation Sans',sans-serif;font-weight:normal;font-size:4.0px" fill="#111">80</text>
<line x1="300.5" y1="47.50" x2="301.8" y2="47.50" stroke="#333" stroke-width="0.5"/>
<text x="299.50" y="48.90" text-anchor="end" style="font-family:'Liberation Sans',sans-serif;font-weight:normal;font-size:4.0px" fill="#111">0</text>
<line x1="300.5" y1="56.23" x2="301.8" y2="56.23" stroke="#333" stroke-width="0.5"/>
<text x="299.50" y="57.63" text-anchor="end" style="font-family:'Liberation Sans',sans-serif;font-weight:normal;font-size:4.0px" fill="#111">-80</text>
<line x1="300.5" y1="64.97" x2="301.8" y2="64.97" stroke="#333" stroke-width="0.5"/>
<text x="299.50" y="66.37" text-anchor="end" style="font-family:'Liberation Sans',sans-serif;font-weight:normal;font-size:4.0px" fill="#111">-160</text>
<line x1="300.5" y1="73.70" x2="301.8" y2="73.70" stroke="#333" stroke-width="0.5"/>
<text x="299.50" y="75.10" text-anchor="end" style="font-family:'Liberation Sans',sans-serif;font-weight:normal;font-size:4.0px" fill="#111">-240</text>
<line x1="301.30" y1="73.8" x2="301.30" y2="72.5" stroke="#333" stroke-width="0.5"/>
<text x="301.30" y="78.00" text-anchor="middle" style="font-family:'Liberation Sans',sans-serif;font-weight:normal;font-size:3.9px" fill="#111">0</text>
<line x1="318.04" y1="73.8" x2="318.04" y2="72.5" stroke="#333" stroke-width="0.5"/>
<text x="318.04" y="78.00" text-anchor="middle" style="font-family:'Liberation Sans',sans-serif;font-weight:normal;font-size:3.9px" fill="#111">20</text>
<line x1="334.78" y1="73.8" x2="334.78" y2="72.5" stroke="#333" stroke-width="0.5"/>
<text x="334.78" y="78.00" text-anchor="middle" style="font-family:'Liberation Sans',sans-serif;font-weight:normal;font-size:3.9px" fill="#111">40</text>
<line x1="351.52" y1="73.8" x2="351.52" y2="72.5" stroke="#333" stroke-width="0.5"/>
<text x="351.52" y="78.00" text-anchor="middle" style="font-family:'Liberation Sans',sans-serif;font-weight:normal;font-size:3.9px" fill="#111">60</text>
<line x1="368.26" y1="73.8" x2="368.26" y2="72.5" stroke="#333" stroke-width="0.5"/>
<text x="368.26" y="78.00" text-anchor="middle" style="font-family:'Liberation Sans',sans-serif;font-weight:normal;font-size:3.9px" fill="#111">80</text>
<line x1="385.00" y1="73.8" x2="385.00" y2="72.5" stroke="#333" stroke-width="0.5"/>
<text x="385.00" y="78.00" text-anchor="middle" style="font-family:'Liberation Sans',sans-serif;font-weight:normal;font-size:3.9px" fill="#111">100</text>
<line x1="401.74" y1="73.8" x2="401.74" y2="72.5" stroke="#333" stroke-width="0.5"/>
<text x="401.74" y="78.00" text-anchor="middle" style="font-family:'Liberation Sans',sans-serif;font-weight:normal;font-size:3.9px" fill="#111">120</text>
<line x1="418.48" y1="73.8" x2="418.48" y2="72.5" stroke="#333" stroke-width="0.5"/>
<text x="418.48" y="78.00" text-anchor="middle" style="font-family:'Liberation Sans',sans-serif;font-weight:normal;font-size:3.9px" fill="#111">140</text>
<line x1="435.22" y1="73.8" x2="435.22" y2="72.5" stroke="#333" stroke-width="0.5"/>
<text x="435.22" y="78.00" text-anchor="middle" style="font-family:'Liberation Sans',sans-serif;font-weight:normal;font-size:3.9px" fill="#111">160</text>
<line x1="451.96" y1="73.8" x2="451.96" y2="72.5" stroke="#333" stroke-width="0.5"/>
<text x="451.96" y="78.00" text-anchor="middle" style="font-family:'Liberation Sans',sans-serif;font-weight:normal;font-size:3.9px" fill="#111">180</text>
<text x="381.50" y="83.20" text-anchor="middle" style="font-family:'Liberation Sans',sans-serif;font-weight:normal;font-size:5.2px" fill="#111">Time (s)</text>
<text transform="translate(291.3,44.3) rotate(-90)" text-anchor="middle" style="font-family:'Liberation Sans',sans-serif;font-size:5.9px" fill="#111">Current (nA)</text>
<line x1="300.5" y1="19.6" x2="300.5" y2="73.8" stroke="#333" stroke-width="0.8"/><line x1="300.5" y1="73.8" x2="460" y2="73.8" stroke="#333" stroke-width="0.8"/>
<rect x="300.5" y="86.6" width="159.5" height="54.80000000000001" fill="#fff" stroke="#999" stroke-width="0.6"/>
<line x1="308.92" y1="86.6" x2="308.92" y2="141.4" stroke="#666" stroke-width="0.6" stroke-dasharray="1,1.2"/>
<line x1="317.37" y1="86.6" x2="317.37" y2="141.4" stroke="#666" stroke-width="0.6" stroke-dasharray="1,1.2"/>
<line x1="325.82" y1="86.6" x2="325.82" y2="141.4" stroke="#666" stroke-width="0.6" stroke-dasharray="1,1.2"/>
<line x1="334.28" y1="86.6" x2="334.28" y2="141.4" stroke="#666" stroke-width="0.6" stroke-dasharray="1,1.2"/>
<line x1="342.73" y1="86.6" x2="342.73" y2="141.4" stroke="#666" stroke-width="0.6" stroke-dasharray="1,1.2"/>
<line x1="351.19" y1="86.6" x2="351.19" y2="141.4" stroke="#666" stroke-width="0.6" stroke-dasharray="1,1.2"/>
<line x1="359.64" y1="86.6" x2="359.64" y2="141.4" stroke="#666" stroke-width="0.6" stroke-dasharray="1,1.2"/>
<line x1="368.09" y1="86.6" x2="368.09" y2="141.4" stroke="#666" stroke-width="0.6" stroke-dasharray="1,1.2"/>
<line x1="376.55" y1="86.6" x2="376.55" y2="141.4" stroke="#666" stroke-width="0.6" stroke-dasharray="1,1.2"/>
<line x1="385.00" y1="86.6" x2="385.00" y2="141.4" stroke="#666" stroke-width="0.6" stroke-dasharray="1,1.2"/>
<line x1="393.45" y1="86.6" x2="393.45" y2="141.4" stroke="#666" stroke-width="0.6" stroke-dasharray="1,1.2"/>
<line x1="401.91" y1="86.6" x2="401.91" y2="141.4" stroke="#666" stroke-width="0.6" stroke-dasharray="1,1.2"/>
<line x1="410.36" y1="86.6" x2="410.36" y2="141.4" stroke="#666" stroke-width="0.6" stroke-dasharray="1,1.2"/>
<line x1="418.81" y1="86.6" x2="418.81" y2="141.4" stroke="#666" stroke-width="0.6" stroke-dasharray="1,1.2"/>
<line x1="427.27" y1="86.6" x2="427.27" y2="141.4" stroke="#666" stroke-width="0.6" stroke-dasharray="1,1.2"/>
<line x1="435.72" y1="86.6" x2="435.72" y2="141.4" stroke="#666" stroke-width="0.6" stroke-dasharray="1,1.2"/>
<line x1="444.18" y1="86.6" x2="444.18" y2="141.4" stroke="#666" stroke-width="0.6" stroke-dasharray="1,1.2"/>
<line x1="452.63" y1="86.6" x2="452.63" y2="141.4" stroke="#666" stroke-width="0.6" stroke-dasharray="1,1.2"/>
<line x1="461.08" y1="86.6" x2="461.08" y2="141.4" stroke="#666" stroke-width="0.6" stroke-dasharray="1,1.2"/>
<rect x="358.3" y="86.2" width="26.2" height="26.39999999999999" fill="#a3b2df"/>
<text x="371.40" y="97.20" text-anchor="middle" style="font-family:'Liberation Sans',sans-serif;font-weight:bold;font-size:5.0px" fill="#111">Data</text>
<text x="371.40" y="103.60" text-anchor="middle" style="font-family:'Liberation Sans',sans-serif;font-weight:bold;font-size:5.0px" fill="#111">Group 2</text>
<rect x="380.2" y="86.5" width="4.8" height="4" fill="#f3e000"/><line x1="381.2" y1="88.5" x2="384" y2="88.5" stroke="#111" stroke-width="0.8"/>
<rect x="357.8" y="108.1" width="4.6" height="4.3" fill="#f3e000"/><text x="360.1" y="111.8" text-anchor="middle" style="font-family:'Liberation Sans',sans-serif;font-weight:bold;font-size:5px">+</text>
<g><rect x="434.5" y="86.6" width="24.5" height="24.400000000000006" fill="#98a9dc" stroke="#666" stroke-width="0.4"/>
<line x1="436.5" y1="86.6" x2="436.5" y2="111.0" stroke="#e4e8f6" stroke-width="0.35"/>
<line x1="438.6" y1="86.6" x2="438.6" y2="111.0" stroke="#e4e8f6" stroke-width="0.35"/>
<line x1="440.6" y1="86.6" x2="440.6" y2="111.0" stroke="#e4e8f6" stroke-width="0.35"/>
<line x1="442.7" y1="86.6" x2="442.7" y2="111.0" stroke="#e4e8f6" stroke-width="0.35"/>
<line x1="444.7" y1="86.6" x2="444.7" y2="111.0" stroke="#e4e8f6" stroke-width="0.35"/>
<line x1="446.8" y1="86.6" x2="446.8" y2="111.0" stroke="#e4e8f6" stroke-width="0.35"/>
<line x1="448.8" y1="86.6" x2="448.8" y2="111.0" stroke="#e4e8f6" stroke-width="0.35"/>
<line x1="450.8" y1="86.6" x2="450.8" y2="111.0" stroke="#e4e8f6" stroke-width="0.35"/>
<line x1="452.9" y1="86.6" x2="452.9" y2="111.0" stroke="#e4e8f6" stroke-width="0.35"/>
<line x1="454.9" y1="86.6" x2="454.9" y2="111.0" stroke="#e4e8f6" stroke-width="0.35"/>
<line x1="457.0" y1="86.6" x2="457.0" y2="111.0" stroke="#e4e8f6" stroke-width="0.35"/>
<line x1="434.5" y1="88.6" x2="459" y2="88.6" stroke="#e4e8f6" stroke-width="0.35"/>
<line x1="434.5" y1="90.7" x2="459" y2="90.7" stroke="#e4e8f6" stroke-width="0.35"/>
<line x1="434.5" y1="92.7" x2="459" y2="92.7" stroke="#e4e8f6" stroke-width="0.35"/>
<line x1="434.5" y1="94.7" x2="459" y2="94.7" stroke="#e4e8f6" stroke-width="0.35"/>
<line x1="434.5" y1="96.8" x2="459" y2="96.8" stroke="#e4e8f6" stroke-width="0.35"/>
<line x1="434.5" y1="98.8" x2="459" y2="98.8" stroke="#e4e8f6" stroke-width="0.35"/>
<line x1="434.5" y1="100.8" x2="459" y2="100.8" stroke="#e4e8f6" stroke-width="0.35"/>
<line x1="434.5" y1="102.9" x2="459" y2="102.9" stroke="#e4e8f6" stroke-width="0.35"/>
<line x1="434.5" y1="104.9" x2="459" y2="104.9" stroke="#e4e8f6" stroke-width="0.35"/>
<line x1="434.5" y1="106.9" x2="459" y2="106.9" stroke="#e4e8f6" stroke-width="0.35"/>
<line x1="434.5" y1="109.0" x2="459" y2="109.0" stroke="#e4e8f6" stroke-width="0.35"/>
<rect x="434.5" y="86.6" width="24.5" height="3.2" fill="#b8c4e8"/>
<text x="446.70" y="89.20" text-anchor="middle" style="font-family:'Liberation Sans',sans-serif;font-weight:bold;font-size:3.2px" fill="#111">Laser path</text>
<path d="M437,93.432 h5 M445,93.432 h10 M453,95.14 l-3,4 M447,100.02 l-4,4 M442,106.12 h8 M452,106.12 h5" stroke="#3456b0" stroke-width="0.9" fill="none"/></g>
<path d="M301.30,115.00 L302.14,115.00 L302.39,114.56 L306.41,114.61 L306.66,115.00 L309.75,115.00" fill="none" stroke="#111" stroke-width="0.85"/>
<path d="M309.75,115.00 L310.59,115.00 L310.84,117.21 L314.86,116.94 L315.11,115.00 L318.21,115.00" fill="none" stroke="#e2261d" stroke-width="0.85"/>
<path d="M318.21,115.00 L319.04,115.00 L319.30,118.53 L323.31,118.11 L323.56,115.00 L326.66,115.00" fill="none" stroke="#5ab43c" stroke-width="0.85"/>
<path d="M326.66,115.00 L327.50,115.00 L327.75,124.05 L331.77,122.97 L332.02,115.00 L335.11,115.00" fill="none" stroke="#f07f22" stroke-width="0.85"/>
<path d="M335.11,115.00 L335.95,115.00 L336.20,126.92 L340.22,125.49 L340.47,115.00 L343.57,115.00" fill="none" stroke="#2e5fb5" stroke-width="0.85"/>
<path d="M343.57,115.00 L344.41,115.00 L344.66,130.90 L348.67,128.99 L348.93,115.00 L352.02,115.00" fill="none" stroke="#b070d8" stroke-width="0.85"/>
<path d="M352.02,115.00 L352.86,115.00 L353.11,134.10 L357.13,131.81 L357.38,115.00 L360.48,115.00" fill="none" stroke="#ee7a2a" stroke-width="0.85"/>
<path d="M360.48,115.00 L361.31,115.00 L361.56,118.53 L365.58,118.11 L365.83,115.00 L368.93,115.00" fill="none" stroke="#2a8ad0" stroke-width="0.85"/>
<path d="M368.93,115.00 L369.77,115.00 L370.02,116.33 L374.04,116.17 L374.29,115.00 L377.38,115.00" fill="none" stroke="#ef70b0" stroke-width="0.85"/>
<path d="M377.38,115.00 L378.22,115.00 L378.47,114.78 L382.49,114.81 L382.74,115.00 L385.84,115.00" fill="none" stroke="#b8a930" stroke-width="0.85"/>
<path d="M385.84,115.00 L386.67,115.00 L386.93,110.58 L390.94,111.11 L391.19,115.00 L394.29,115.00" fill="none" stroke="#8c8ad8" stroke-width="0.85"/>
<path d="M394.29,115.00 L395.13,115.00 L395.38,107.49 L399.40,108.39 L399.65,115.00 L402.74,115.00" fill="none" stroke="#e2608a" stroke-width="0.85"/>
<path d="M402.74,115.00 L403.58,115.00 L403.83,99.76 L407.85,101.59 L408.10,115.00 L411.20,115.00" fill="none" stroke="#2a9a8a" stroke-width="0.85"/>
<path d="M411.20,115.00 L412.04,115.00 L412.29,104.18 L416.30,105.48 L416.55,115.00 L419.65,115.00" fill="none" stroke="#e2608a" stroke-width="0.85"/>
<path d="M419.65,115.00 L420.49,115.00 L420.74,107.82 L424.76,108.68 L425.01,115.00 L428.11,115.00" fill="none" stroke="#7a6ad8" stroke-width="0.85"/>
<path d="M428.11,115.00 L428.94,115.00 L429.19,109.70 L433.21,110.34 L433.46,115.00 L436.56,115.00" fill="none" stroke="#6ac04a" stroke-width="0.85"/>
<path d="M436.56,115.00 L437.40,115.00 L437.65,111.80 L441.66,112.18 L441.92,115.00 L445.01,115.00" fill="none" stroke="#ef7ab0" stroke-width="0.85"/>
<path d="M445.01,115.00 L445.85,115.00 L446.10,114.45 L450.12,114.51 L450.37,115.00 L453.47,115.00" fill="none" stroke="#f0a030" stroke-width="0.85"/>
<path d="M453.47,115.00 L454.30,115.00 L454.55,114.78 L458.57,114.81 L458.82,115.00 L461.92,115.00" fill="none" stroke="#c07030" stroke-width="0.85"/>
<line x1="300.5" y1="88.50" x2="301.8" y2="88.50" stroke="#333" stroke-width="0.5"/>
<text x="299.50" y="89.90" text-anchor="end" style="font-family:'Liberation Sans',sans-serif;font-weight:normal;font-size:4.0px" fill="#111">240</text>
<line x1="300.5" y1="97.33" x2="301.8" y2="97.33" stroke="#333" stroke-width="0.5"/>
<text x="299.50" y="98.73" text-anchor="end" style="font-family:'Liberation Sans',sans-serif;font-weight:normal;font-size:4.0px" fill="#111">160</text>
<line x1="300.5" y1="106.17" x2="301.8" y2="106.17" stroke="#333" stroke-width="0.5"/>
<text x="299.50" y="107.57" text-anchor="end" style="font-family:'Liberation Sans',sans-serif;font-weight:normal;font-size:4.0px" fill="#111">80</text>
<line x1="300.5" y1="115.00" x2="301.8" y2="115.00" stroke="#333" stroke-width="0.5"/>
<text x="299.50" y="116.40" text-anchor="end" style="font-family:'Liberation Sans',sans-serif;font-weight:normal;font-size:4.0px" fill="#111">0</text>
<line x1="300.5" y1="123.83" x2="301.8" y2="123.83" stroke="#333" stroke-width="0.5"/>
<text x="299.50" y="125.23" text-anchor="end" style="font-family:'Liberation Sans',sans-serif;font-weight:normal;font-size:4.0px" fill="#111">-80</text>
<line x1="300.5" y1="132.67" x2="301.8" y2="132.67" stroke="#333" stroke-width="0.5"/>
<text x="299.50" y="134.07" text-anchor="end" style="font-family:'Liberation Sans',sans-serif;font-weight:normal;font-size:4.0px" fill="#111">-160</text>
<line x1="300.5" y1="141.50" x2="301.8" y2="141.50" stroke="#333" stroke-width="0.5"/>
<text x="299.50" y="142.90" text-anchor="end" style="font-family:'Liberation Sans',sans-serif;font-weight:normal;font-size:4.0px" fill="#111">-240</text>
<line x1="301.30" y1="141.4" x2="301.30" y2="140.1" stroke="#333" stroke-width="0.5"/>
<text x="301.30" y="145.60" text-anchor="middle" style="font-family:'Liberation Sans',sans-serif;font-weight:normal;font-size:3.9px" fill="#111">0</text>
<line x1="318.04" y1="141.4" x2="318.04" y2="140.1" stroke="#333" stroke-width="0.5"/>
<text x="318.04" y="145.60" text-anchor="middle" style="font-family:'Liberation Sans',sans-serif;font-weight:normal;font-size:3.9px" fill="#111">20</text>
<line x1="334.78" y1="141.4" x2="334.78" y2="140.1" stroke="#333" stroke-width="0.5"/>
<text x="334.78" y="145.60" text-anchor="middle" style="font-family:'Liberation Sans',sans-serif;font-weight:normal;font-size:3.9px" fill="#111">40</text>
<line x1="351.52" y1="141.4" x2="351.52" y2="140.1" stroke="#333" stroke-width="0.5"/>
<text x="351.52" y="145.60" text-anchor="middle" style="font-family:'Liberation Sans',sans-serif;font-weight:normal;font-size:3.9px" fill="#111">60</text>
<line x1="368.26" y1="141.4" x2="368.26" y2="140.1" stroke="#333" stroke-width="0.5"/>
<text x="368.26" y="145.60" text-anchor="middle" style="font-family:'Liberation Sans',sans-serif;font-weight:normal;font-size:3.9px" fill="#111">80</text>
<line x1="385.00" y1="141.4" x2="385.00" y2="140.1" stroke="#333" stroke-width="0.5"/>
<text x="385.00" y="145.60" text-anchor="middle" style="font-family:'Liberation Sans',sans-serif;font-weight:normal;font-size:3.9px" fill="#111">100</text>
<line x1="401.74" y1="141.4" x2="401.74" y2="140.1" stroke="#333" stroke-width="0.5"/>
<text x="401.74" y="145.60" text-anchor="middle" style="font-family:'Liberation Sans',sans-serif;font-weight:normal;font-size:3.9px" fill="#111">120</text>
<line x1="418.48" y1="141.4" x2="418.48" y2="140.1" stroke="#333" stroke-width="0.5"/>
<text x="418.48" y="145.60" text-anchor="middle" style="font-family:'Liberation Sans',sans-serif;font-weight:normal;font-size:3.9px" fill="#111">140</text>
<line x1="435.22" y1="141.4" x2="435.22" y2="140.1" stroke="#333" stroke-width="0.5"/>
<text x="435.22" y="145.60" text-anchor="middle" style="font-family:'Liberation Sans',sans-serif;font-weight:normal;font-size:3.9px" fill="#111">160</text>
<line x1="451.96" y1="141.4" x2="451.96" y2="140.1" stroke="#333" stroke-width="0.5"/>
<text x="451.96" y="145.60" text-anchor="middle" style="font-family:'Liberation Sans',sans-serif;font-weight:normal;font-size:3.9px" fill="#111">180</text>
<text x="381.50" y="150.80" text-anchor="middle" style="font-family:'Liberation Sans',sans-serif;font-weight:normal;font-size:5.2px" fill="#111">Time (s)</text>
<text transform="translate(291.3,114.0) rotate(-90)" text-anchor="middle" style="font-family:'Liberation Sans',sans-serif;font-size:5.9px" fill="#111">Current (nA)</text>
<line x1="300.5" y1="86.6" x2="300.5" y2="141.4" stroke="#333" stroke-width="0.8"/><line x1="300.5" y1="141.4" x2="460" y2="141.4" stroke="#333" stroke-width="0.8"/>
<defs><linearGradient id="cbar" x1="0" y1="0" x2="0" y2="1"><stop offset="0" stop-color="#a50026"/><stop offset="0.15" stop-color="#d73027"/><stop offset="0.3" stop-color="#f46d43"/><stop offset="0.45" stop-color="#fdc17a"/><stop offset="0.58" stop-color="#f6f3df"/><stop offset="0.7" stop-color="#abd9e9"/><stop offset="0.85" stop-color="#4575b4"/><stop offset="1" stop-color="#23306f"/></linearGradient><linearGradient id="redstreak" x1="0" y1="0" x2="1" y2="0"><stop offset="0" stop-color="#b2182b"/><stop offset="0.45" stop-color="#d6402e"/><stop offset="1" stop-color="#f9cb84" stop-opacity="0"/></linearGradient><linearGradient id="bluestreak" x1="1" y1="0" x2="0" y2="0"><stop offset="0" stop-color="#1f4e9a"/><stop offset="0.4" stop-color="#4a85c4"/><stop offset="0.75" stop-color="#cfe4f0"/><stop offset="1" stop-color="#f9cb84" stop-opacity="0"/></linearGradient><linearGradient id="redstreak2" x1="0" y1="0" x2="1" y2="0"><stop offset="0" stop-color="#b51d25"/><stop offset="0.4" stop-color="#e45a35"/><stop offset="0.75" stop-color="#f6b57a"/><stop offset="1" stop-color="#f3e7b4" stop-opacity="0"/></linearGradient><linearGradient id="bluestreak2" x1="1" y1="0" x2="0" y2="0"><stop offset="0" stop-color="#3b73b6"/><stop offset="0.5" stop-color="#8fc0e0"/><stop offset="0.85" stop-color="#e8f0ee"/><stop offset="1" stop-color="#f3e7b4" stop-opacity="0"/></linearGradient><filter id="blur1" x="-20%" y="-50%" width="140%" height="200%"><feGaussianBlur stdDeviation="0.9"/></filter><filter id="blur2" x="-20%" y="-50%" width="140%" height="200%"><feGaussianBlur stdDeviation="1.6"/></filter></defs>
<rect x="468.4" y="18.8" width="57.7" height="56.2" fill="#f9cb84" stroke="#888" stroke-width="0.5"/>
<g filter="url(#blur2)"><path d="M520,27 L525,31 L491,61 L485,58 Z" fill="#fae3b8" opacity="0.7"/></g>
<rect x="511.4" y="32.4" width="3.2" height="3.2" fill="#fbeacb" opacity="0.45"/>
<rect x="505.8" y="37.2" width="3.2" height="3.2" fill="#fbeacb" opacity="0.45"/>
<rect x="500.2" y="42.0" width="3.2" height="3.2" fill="#fbeacb" opacity="0.45"/>
<rect x="494.6" y="46.8" width="3.2" height="3.2" fill="#fbeacb" opacity="0.45"/>
<rect x="489.0" y="51.6" width="3.2" height="3.2" fill="#fbeacb" opacity="0.45"/>
<g filter="url(#blur1)"><path d="M476.4,31 L484,26.5 L510,29.5 L510,32.5 L484,35.5 Z" fill="url(#redstreak)"/></g>
<g filter="url(#blur1)"><path d="M523.9,68.8 L517,64 L484,66.5 L484,71 L517,73.3 Z" fill="url(#bluestreak)"/></g>
<rect x="529.5" y="19.1" width="4.5" height="55.6" fill="url(#cbar)" stroke="#555" stroke-width="0.3"/>
<text x="531.80" y="18.00" text-anchor="middle" style="font-family:'Liberation Sans',sans-serif;font-weight:normal;font-size:2.8px" fill="#333">100.0</text>
<text x="531.80" y="77.80" text-anchor="middle" style="font-family:'Liberation Sans',sans-serif;font-weight:normal;font-size:2.8px" fill="#333">-150.0</text>
<text x="461.80" y="21.00" text-anchor="start" style="font-family:'Liberation Sans',sans-serif;font-weight:normal;font-size:4.6px" fill="#333">b</text>
<rect x="468.4" y="86.4" width="57.2" height="55" fill="#f3e7b4" stroke="#888" stroke-width="0.5"/>
<g filter="url(#blur1)"><path d="M523,96.1 L519,93.2 L486,94.5 L486,100 L506,101 L512.8,108 L518,100 Z" fill="url(#bluestreak2)"/></g>
<g filter="url(#blur1)"><path d="M506.4,108.8 L509,111.4 L506.4,114 L503.8,111.4 Z" fill="#cfe3ee"/></g>
<g filter="url(#blur1)"><path d="M477.3,135 L487.4,126.6 L493,130 L518,132 L518,135 L485,138.5 Z" fill="url(#redstreak2)"/></g>
<g filter="url(#blur1)"><path d="M494.2,120 L496.6,122.4 L494.2,124.8 L491.8,122.4 Z" fill="#f2b36c"/></g>
<rect x="529.5" y="86.4" width="4.5" height="54.6" fill="url(#cbar)" stroke="#555" stroke-width="0.3"/>
<text x="531.80" y="85.20" text-anchor="middle" style="font-family:'Liberation Sans',sans-serif;font-weight:normal;font-size:2.8px" fill="#333">140.0</text>
<text x="531.80" y="144.50" text-anchor="middle" style="font-family:'Liberation Sans',sans-serif;font-weight:normal;font-size:2.8px" fill="#333">-150.0</text>
<text x="461.80" y="88.20" text-anchor="start" style="font-family:'Liberation Sans',sans-serif;font-weight:normal;font-size:4.6px" fill="#333">d</text>
<rect x="20.3" y="175.4" width="109.3" height="83.6" fill="#fff" stroke="#333" stroke-width="1.1"/>
<defs><linearGradient id="tube" x1="0" y1="0" x2="1" y2="0"><stop offset="0" stop-color="#c4c8cf"/><stop offset="0.5" stop-color="#dfe2e6"/><stop offset="1" stop-color="#b9bec6"/></linearGradient><linearGradient id="beamY" gradientUnits="userSpaceOnUse" x1="43" y1="206" x2="82" y2="236"><stop offset="0" stop-color="#fff48a" stop-opacity="0.55"/><stop offset="0.5" stop-color="#f8ea30"/><stop offset="1" stop-color="#f5dc00"/></linearGradient><filter id="blur3" x="-30%" y="-30%" width="160%" height="160%"><feGaussianBlur stdDeviation="1.8"/></filter></defs>
<path d="M80.4,205 L80.4,192.5 L26.6,192.5 L26.6,244 L47,244" fill="none" stroke="#555" stroke-width="0.6"/>
<circle cx="26.6" cy="211.6" r="4.2" fill="#fff" stroke="#555" stroke-width="0.7"/>
<text x="26.60" y="213.40" text-anchor="middle" style="font-family:'Liberation Sans',sans-serif;font-weight:normal;font-size:4.6px" fill="#222">A</text>
<polygon points="46,238.5 118.4,238.5 118.4,245.7 46,245.7" fill="#9aa5b8"/>
<polygon points="46,237.7 118.4,237.7 118.4,239 46,239" fill="#b9c2d0"/>
<path d="M70.5,204.9 L92.1,204.9 L92.1,228 L82.5,236.8 L81,236.8 L70.5,228 Z" fill="url(#tube)"/>
<rect x="69.7" y="204.9" width="23.3" height="1" fill="#d0d4da"/>
<path d="M70,228 L81.3,221 L93,228" fill="none" stroke="#aab" stroke-width="0.5"/>
<path d="M72,237.7 Q81,231 91,237.7 Z" fill="#b8c4d4"/>
<g filter="url(#blur1)"><path d="M41.5,208 L47,203.5 L88,233.5 L80,239 Z" fill="url(#beamY)"/></g>
<path d="M46,207 L84,236" stroke="#fffbd0" stroke-width="0.7"/>
<g filter="url(#blur3)"><ellipse cx="81" cy="234.5" rx="8" ry="4.5" fill="#f6de10"/></g>
<path d="M74,237.7 Q81,233 89,237.7 Z" fill="#f4f2e0" opacity="0.8"/>
<rect x="79.2" y="197" width="2.4" height="24" fill="#e86a30"/>
<rect x="79.2" y="197" width="2.4" height="5.5" fill="#e84e1a"/>
<text x="83.00" y="202.00" text-anchor="start" style="font-family:'Liberation Sans',sans-serif;font-weight:normal;font-size:4.8px" fill="#222">Copper wire</text>
<text x="93.60" y="218.50" text-anchor="start" style="font-family:'Liberation Sans',sans-serif;font-weight:normal;font-size:4.8px" fill="#222">Capillary tube</text>
<text x="43.20" y="219.50" text-anchor="start" style="font-family:'Liberation Sans',sans-serif;font-weight:normal;font-size:4.8px" fill="#222">Light beam</text>
<text x="75.00" y="239.80" text-anchor="start" style="font-family:'Liberation Sans',sans-serif;font-weight:normal;font-size:4.6px" fill="#222">Water</text>
<text x="81.00" y="247.50" text-anchor="start" style="font-family:'Liberation Sans',sans-serif;font-weight:normal;font-size:4.6px" fill="#222">Si</text>
<line x1="129.6" y1="175.6" x2="217.7" y2="213.5" stroke="#f03a28" stroke-width="1.0" stroke-dasharray="2.4,1.5"/>
<line x1="129.6" y1="258.8" x2="217.7" y2="222.5" stroke="#f03a28" stroke-width="1.0" stroke-dasharray="2.4,1.5"/>
<defs><linearGradient id="topsurf" x1="0" y1="0" x2="1" y2="0"><stop offset="0" stop-color="#968a7a"/><stop offset="1" stop-color="#a89c8c"/></linearGradient></defs>
<polygon points="147.1,220 155.3,214.2 262,212.9 269.8,219.2 269.8,223.5 230.3,230.7" fill="url(#topsurf)"/>
<polygon points="147.1,220 230.3,230.7 230.3,241.3 147.1,232" fill="#2e3a5c"/>
<polygon points="230.3,230.7 269.8,223.5 269.8,237 230.3,241.3" fill="#a8998a"/>
<polygon points="161.6,202.9 184.2,202.9 185.5,219 162.8,219" fill="#1a1a1a"/>
<rect x="163" y="204.5" width="19.8" height="13" fill="#e8e8e8"/>
<path d="M164,211 L170,211 L171,207 L172,214 L173,209 L175,212 L181,211" stroke="#555" stroke-width="0.4" fill="none"/>
<polygon points="160,219 186,219 190,223.5 163,223.5" fill="#2a2a2a"/>
<rect x="189" y="198.7" width="10" height="17.2" fill="#8b9098"/>
<rect x="190.5" y="200" width="7" height="8" fill="#6a7080"/>
<rect x="190.5" y="209.5" width="7" height="4" fill="#444"/>
<path d="M222,217 L222,197.5 L237,197.5 L237,222" fill="none" stroke="#222" stroke-width="0.9"/>
<path d="M221,210 L225,213" stroke="#222" stroke-width="0.8"/>
<path d="M229,197.5 L229,195" stroke="#222" stroke-width="0.5"/>
<polygon points="203,209.5 230.5,209.5 230.5,218 203,218" fill="#a49c8e" opacity="0.95"/>
<polygon points="208,216 216,213 222,214.5 214,219" fill="#f2efe4"/>
<polygon points="241.2,212.6 243.5,209.9 262.5,209.9 262.5,212.6" fill="#7a7468"/>
<rect x="241.2" y="212.6" width="21.3" height="8.6" fill="#22242c"/>
<rect x="243" y="214.5" width="9" height="2" fill="#3a3030"/>
<line x1="186" y1="221" x2="245" y2="221" stroke="#333" stroke-width="0.4"/>
<rect x="216.4" y="214.5" width="9" height="10.5" fill="none" stroke="#e8403a" stroke-width="0.8" stroke-dasharray="1.8,1.2"/>
<rect x="302.3" y="167.2" width="90.89999999999998" height="77.4" fill="none" stroke="#222" stroke-width="0.8"/>
<line x1="302.3" y1="241.20" x2="304.1" y2="241.20" stroke="#222" stroke-width="0.6"/>
<text x="299.60" y="243.50" text-anchor="end" style="font-family:'Liberation Sans',sans-serif;font-weight:normal;font-size:6.4px" fill="#111">0.0</text>
<line x1="302.3" y1="226.60" x2="304.1" y2="226.60" stroke="#222" stroke-width="0.6"/>
<text x="299.60" y="228.90" text-anchor="end" style="font-family:'Liberation Sans',sans-serif;font-weight:normal;font-size:6.4px" fill="#111">0.2</text>
<line x1="302.3" y1="212.00" x2="304.1" y2="212.00" stroke="#222" stroke-width="0.6"/>
<text x="299.60" y="214.30" text-anchor="end" style="font-family:'Liberation Sans',sans-serif;font-weight:normal;font-size:6.4px" fill="#111">0.4</text>
<line x1="302.3" y1="197.40" x2="304.1" y2="197.40" stroke="#222" stroke-width="0.6"/>
<text x="299.60" y="199.70" text-anchor="end" style="font-family:'Liberation Sans',sans-serif;font-weight:normal;font-size:6.4px" fill="#111">0.6</text>
<line x1="302.3" y1="182.80" x2="304.1" y2="182.80" stroke="#222" stroke-width="0.6"/>
<text x="299.60" y="185.10" text-anchor="end" style="font-family:'Liberation Sans',sans-serif;font-weight:normal;font-size:6.4px" fill="#111">0.8</text>
<line x1="302.3" y1="168.20" x2="304.1" y2="168.20" stroke="#222" stroke-width="0.6"/>
<text x="299.60" y="170.50" text-anchor="end" style="font-family:'Liberation Sans',sans-serif;font-weight:normal;font-size:6.4px" fill="#111">1.0</text>
<line x1="302.50" y1="244.6" x2="302.50" y2="242.79999999999998" stroke="#222" stroke-width="0.6"/>
<text x="302.50" y="255.00" text-anchor="middle" style="font-family:'Liberation Sans',sans-serif;font-weight:normal;font-size:6.4px" fill="#111">0</text>
<line x1="312.67" y1="244.6" x2="312.67" y2="242.79999999999998" stroke="#222" stroke-width="0.6"/>
<text x="312.67" y="255.00" text-anchor="middle" style="font-family:'Liberation Sans',sans-serif;font-weight:normal;font-size:6.4px" fill="#111">1</text>
<line x1="322.84" y1="244.6" x2="322.84" y2="242.79999999999998" stroke="#222" stroke-width="0.6"/>
<text x="322.84" y="255.00" text-anchor="middle" style="font-family:'Liberation Sans',sans-serif;font-weight:normal;font-size:6.4px" fill="#111">2</text>
<line x1="333.01" y1="244.6" x2="333.01" y2="242.79999999999998" stroke="#222" stroke-width="0.6"/>
<text x="333.01" y="255.00" text-anchor="middle" style="font-family:'Liberation Sans',sans-serif;font-weight:normal;font-size:6.4px" fill="#111">3</text>
<line x1="343.18" y1="244.6" x2="343.18" y2="242.79999999999998" stroke="#222" stroke-width="0.6"/>
<text x="343.18" y="255.00" text-anchor="middle" style="font-family:'Liberation Sans',sans-serif;font-weight:normal;font-size:6.4px" fill="#111">4</text>
<line x1="353.35" y1="244.6" x2="353.35" y2="242.79999999999998" stroke="#222" stroke-width="0.6"/>
<text x="353.35" y="255.00" text-anchor="middle" style="font-family:'Liberation Sans',sans-serif;font-weight:normal;font-size:6.4px" fill="#111">5</text>
<line x1="363.52" y1="244.6" x2="363.52" y2="242.79999999999998" stroke="#222" stroke-width="0.6"/>
<text x="363.52" y="255.00" text-anchor="middle" style="font-family:'Liberation Sans',sans-serif;font-weight:normal;font-size:6.4px" fill="#111">6</text>
<line x1="373.69" y1="244.6" x2="373.69" y2="242.79999999999998" stroke="#222" stroke-width="0.6"/>
<text x="373.69" y="255.00" text-anchor="middle" style="font-family:'Liberation Sans',sans-serif;font-weight:normal;font-size:6.4px" fill="#111">7</text>
<line x1="383.86" y1="244.6" x2="383.86" y2="242.79999999999998" stroke="#222" stroke-width="0.6"/>
<text x="383.86" y="255.00" text-anchor="middle" style="font-family:'Liberation Sans',sans-serif;font-weight:normal;font-size:6.4px" fill="#111">8</text>
<line x1="394.03" y1="244.6" x2="394.03" y2="242.79999999999998" stroke="#222" stroke-width="0.6"/>
<text x="394.03" y="255.00" text-anchor="middle" style="font-family:'Liberation Sans',sans-serif;font-weight:normal;font-size:6.4px" fill="#111">9</text>
<polyline points="312.67,212.73 322.84,209.81 343.18,195.21 363.52,186.45 383.86,193.02" fill="none" stroke="#1a1a1a" stroke-width="0.9"/>
<circle cx="312.67" cy="212.73" r="1.75" fill="#1a1a1a"/>
<circle cx="322.84" cy="209.81" r="1.75" fill="#1a1a1a"/>
<circle cx="343.18" cy="195.21" r="1.75" fill="#1a1a1a"/>
<circle cx="363.52" cy="186.45" r="1.75" fill="#1a1a1a"/>
<circle cx="383.86" cy="193.02" r="1.75" fill="#1a1a1a"/>
<polyline points="312.67,214.92 322.84,212.73 343.18,201.78 363.52,192.29 383.86,198.13" fill="none" stroke="#f02828" stroke-width="0.9"/>
<circle cx="312.67" cy="214.92" r="1.75" fill="#f02828"/>
<circle cx="322.84" cy="212.73" r="1.75" fill="#f02828"/>
<circle cx="343.18" cy="201.78" r="1.75" fill="#f02828"/>
<circle cx="363.52" cy="192.29" r="1.75" fill="#f02828"/>
<circle cx="383.86" cy="198.13" r="1.75" fill="#f02828"/>
<polyline points="312.67,221.49 322.84,217.84 343.18,209.08 363.52,202.51 383.86,208.35" fill="none" stroke="#22c322" stroke-width="0.9"/>
<circle cx="312.67" cy="221.49" r="1.75" fill="#22c322"/>
<circle cx="322.84" cy="217.84" r="1.75" fill="#22c322"/>
<circle cx="343.18" cy="209.08" r="1.75" fill="#22c322"/>
<circle cx="363.52" cy="202.51" r="1.75" fill="#22c322"/>
<circle cx="383.86" cy="208.35" r="1.75" fill="#22c322"/>
<polyline points="312.67,225.87 322.84,223.68 343.18,214.92 363.52,212.73 383.86,217.11" fill="none" stroke="#2a36e0" stroke-width="0.9"/>
<circle cx="312.67" cy="225.87" r="1.75" fill="#2a36e0"/>
<circle cx="322.84" cy="223.68" r="1.75" fill="#2a36e0"/>
<circle cx="343.18" cy="214.92" r="1.75" fill="#2a36e0"/>
<circle cx="363.52" cy="212.73" r="1.75" fill="#2a36e0"/>
<circle cx="383.86" cy="217.11" r="1.75" fill="#2a36e0"/>
<polyline points="312.67,236.09 322.84,235.36 343.18,233.90 363.52,233.17 383.86,234.63" fill="none" stroke="#22c8e8" stroke-width="0.9"/>
<circle cx="312.67" cy="236.09" r="1.75" fill="#22c8e8"/>
<circle cx="322.84" cy="235.36" r="1.75" fill="#22c8e8"/>
<circle cx="343.18" cy="233.90" r="1.75" fill="#22c8e8"/>
<circle cx="363.52" cy="233.17" r="1.75" fill="#22c8e8"/>
<circle cx="383.86" cy="234.63" r="1.75" fill="#22c8e8"/>
<line x1="307.4" y1="175.20" x2="315.4" y2="175.20" stroke="#1a1a1a" stroke-width="0.7"/><circle cx="311.4" cy="175.20" r="1.2" fill="#1a1a1a"/>
<text x="317.40" y="176.90" text-anchor="start" style="font-family:'Liberation Sans',sans-serif;font-weight:normal;font-size:4.9px" fill="#111">400nm</text>
<line x1="307.4" y1="180.45" x2="315.4" y2="180.45" stroke="#f02828" stroke-width="0.7"/><circle cx="311.4" cy="180.45" r="1.2" fill="#f02828"/>
<text x="317.40" y="182.15" text-anchor="start" style="font-family:'Liberation Sans',sans-serif;font-weight:normal;font-size:4.9px" fill="#111">500nm</text>
<line x1="307.4" y1="185.70" x2="315.4" y2="185.70" stroke="#22c322" stroke-width="0.7"/><circle cx="311.4" cy="185.70" r="1.2" fill="#22c322"/>
<text x="317.40" y="187.40" text-anchor="start" style="font-family:'Liberation Sans',sans-serif;font-weight:normal;font-size:4.9px" fill="#111">600nm</text>
<line x1="307.4" y1="190.95" x2="315.4" y2="190.95" stroke="#2a36e0" stroke-width="0.7"/><circle cx="311.4" cy="190.95" r="1.2" fill="#2a36e0"/>
<text x="317.40" y="192.65" text-anchor="start" style="font-family:'Liberation Sans',sans-serif;font-weight:normal;font-size:4.9px" fill="#111">700nm</text>
<line x1="307.4" y1="196.20" x2="315.4" y2="196.20" stroke="#22c8e8" stroke-width="0.7"/><circle cx="311.4" cy="196.20" r="1.2" fill="#22c8e8"/>
<text x="317.40" y="197.90" text-anchor="start" style="font-family:'Liberation Sans',sans-serif;font-weight:normal;font-size:4.9px" fill="#111">800nm</text>
<text x="343.80" y="227.00" text-anchor="start" style="font-family:'Liberation Sans',sans-serif;font-weight:normal;font-size:7.2px" fill="#111">V<tspan style="font-size:4.6px" dy="1.7">bias</tspan><tspan dy="-1.7"> = 0</tspan></text>
<text x="350.50" y="269.50" text-anchor="middle" style="font-family:'Liberation Sans',sans-serif;font-weight:bold;font-size:8.9px" fill="#111">Power (μW/cm<tspan style="font-size:6px" dy="-3.5">2</tspan><tspan dy="3.5">)</tspan></text>
<text transform="translate(281.3,212.2) rotate(-90)" text-anchor="middle" style="font-family:'Liberation Sans',sans-serif;font-weight:bold;font-size:8.8px" fill="#111">Responsivity<tspan style="font-size:6px" dy="2.2">trans</tspan><tspan dy="-2.2"> (A/W)</tspan></text>
<rect x="441" y="166.7" width="91.20000000000005" height="77.9" fill="none" stroke="#222" stroke-width="0.8"/>
<line x1="441" y1="242.50" x2="442.8" y2="242.50" stroke="#222" stroke-width="0.6"/>
<text x="438.50" y="244.80" text-anchor="end" style="font-family:'Liberation Sans',sans-serif;font-weight:normal;font-size:6.4px" fill="#111">0</text>
<line x1="441" y1="232.31" x2="442.8" y2="232.31" stroke="#222" stroke-width="0.6"/>
<text x="438.50" y="234.61" text-anchor="end" style="font-family:'Liberation Sans',sans-serif;font-weight:normal;font-size:6.4px" fill="#111">2</text>
<line x1="441" y1="222.13" x2="442.8" y2="222.13" stroke="#222" stroke-width="0.6"/>
<text x="438.50" y="224.43" text-anchor="end" style="font-family:'Liberation Sans',sans-serif;font-weight:normal;font-size:6.4px" fill="#111">4</text>
<line x1="441" y1="211.94" x2="442.8" y2="211.94" stroke="#222" stroke-width="0.6"/>
<text x="438.50" y="214.24" text-anchor="end" style="font-family:'Liberation Sans',sans-serif;font-weight:normal;font-size:6.4px" fill="#111">6</text>
<line x1="441" y1="201.76" x2="442.8" y2="201.76" stroke="#222" stroke-width="0.6"/>
<text x="438.50" y="204.06" text-anchor="end" style="font-family:'Liberation Sans',sans-serif;font-weight:normal;font-size:6.4px" fill="#111">8</text>
<line x1="441" y1="191.57" x2="442.8" y2="191.57" stroke="#222" stroke-width="0.6"/>
<text x="438.50" y="193.87" text-anchor="end" style="font-family:'Liberation Sans',sans-serif;font-weight:normal;font-size:6.4px" fill="#111">10</text>
<line x1="441" y1="181.39" x2="442.8" y2="181.39" stroke="#222" stroke-width="0.6"/>
<text x="438.50" y="183.69" text-anchor="end" style="font-family:'Liberation Sans',sans-serif;font-weight:normal;font-size:6.4px" fill="#111">12</text>
<line x1="441" y1="171.20" x2="442.8" y2="171.20" stroke="#222" stroke-width="0.6"/>
<text x="438.50" y="173.50" text-anchor="end" style="font-family:'Liberation Sans',sans-serif;font-weight:normal;font-size:6.4px" fill="#111">14</text>
<line x1="441.00" y1="244.6" x2="441.00" y2="242.79999999999998" stroke="#222" stroke-width="0.6"/>
<text x="441.00" y="255.00" text-anchor="middle" style="font-family:'Liberation Sans',sans-serif;font-weight:normal;font-size:6.4px" fill="#111">0</text>
<line x1="451.13" y1="244.6" x2="451.13" y2="242.79999999999998" stroke="#222" stroke-width="0.6"/>
<text x="451.13" y="255.00" text-anchor="middle" style="font-family:'Liberation Sans',sans-serif;font-weight:normal;font-size:6.4px" fill="#111">1</text>
<line x1="461.26" y1="244.6" x2="461.26" y2="242.79999999999998" stroke="#222" stroke-width="0.6"/>
<text x="461.26" y="255.00" text-anchor="middle" style="font-family:'Liberation Sans',sans-serif;font-weight:normal;font-size:6.4px" fill="#111">2</text>
<line x1="471.39" y1="244.6" x2="471.39" y2="242.79999999999998" stroke="#222" stroke-width="0.6"/>
<text x="471.39" y="255.00" text-anchor="middle" style="font-family:'Liberation Sans',sans-serif;font-weight:normal;font-size:6.4px" fill="#111">3</text>
<line x1="481.52" y1="244.6" x2="481.52" y2="242.79999999999998" stroke="#222" stroke-width="0.6"/>
<text x="481.52" y="255.00" text-anchor="middle" style="font-family:'Liberation Sans',sans-serif;font-weight:normal;font-size:6.4px" fill="#111">4</text>
<line x1="491.65" y1="244.6" x2="491.65" y2="242.79999999999998" stroke="#222" stroke-width="0.6"/>
<text x="491.65" y="255.00" text-anchor="middle" style="font-family:'Liberation Sans',sans-serif;font-weight:normal;font-size:6.4px" fill="#111">5</text>
<line x1="501.78" y1="244.6" x2="501.78" y2="242.79999999999998" stroke="#222" stroke-width="0.6"/>
<text x="501.78" y="255.00" text-anchor="middle" style="font-family:'Liberation Sans',sans-serif;font-weight:normal;font-size:6.4px" fill="#111">6</text>
<line x1="511.91" y1="244.6" x2="511.91" y2="242.79999999999998" stroke="#222" stroke-width="0.6"/>
<text x="511.91" y="255.00" text-anchor="middle" style="font-family:'Liberation Sans',sans-serif;font-weight:normal;font-size:6.4px" fill="#111">7</text>
<line x1="522.04" y1="244.6" x2="522.04" y2="242.79999999999998" stroke="#222" stroke-width="0.6"/>
<text x="522.04" y="255.00" text-anchor="middle" style="font-family:'Liberation Sans',sans-serif;font-weight:normal;font-size:6.4px" fill="#111">8</text>
<line x1="532.17" y1="244.6" x2="532.17" y2="242.79999999999998" stroke="#222" stroke-width="0.6"/>
<text x="532.17" y="255.00" text-anchor="middle" style="font-family:'Liberation Sans',sans-serif;font-weight:normal;font-size:6.4px" fill="#111">9</text>
<polyline points="451.13,207.36 461.26,203.79 481.52,186.48 501.78,174.76 522.04,183.42" fill="none" stroke="#1a1a1a" stroke-width="0.9"/>
<circle cx="451.13" cy="207.36" r="1.75" fill="#1a1a1a"/>
<circle cx="461.26" cy="203.79" r="1.75" fill="#1a1a1a"/>
<circle cx="481.52" cy="186.48" r="1.75" fill="#1a1a1a"/>
<circle cx="501.78" cy="174.76" r="1.75" fill="#1a1a1a"/>
<circle cx="522.04" cy="183.42" r="1.75" fill="#1a1a1a"/>
<polyline points="451.13,209.91 461.26,207.36 481.52,193.61 501.78,181.90 522.04,189.53" fill="none" stroke="#f02828" stroke-width="0.9"/>
<circle cx="451.13" cy="209.91" r="1.75" fill="#f02828"/>
<circle cx="461.26" cy="207.36" r="1.75" fill="#f02828"/>
<circle cx="481.52" cy="193.61" r="1.75" fill="#f02828"/>
<circle cx="501.78" cy="181.90" r="1.75" fill="#f02828"/>
<circle cx="522.04" cy="189.53" r="1.75" fill="#f02828"/>
<polyline points="451.13,217.54 461.26,214.49 481.52,203.28 501.78,195.14 522.04,202.78" fill="none" stroke="#22c322" stroke-width="0.9"/>
<circle cx="451.13" cy="217.54" r="1.75" fill="#22c322"/>
<circle cx="461.26" cy="214.49" r="1.75" fill="#22c322"/>
<circle cx="481.52" cy="203.28" r="1.75" fill="#22c322"/>
<circle cx="501.78" cy="195.14" r="1.75" fill="#22c322"/>
<circle cx="522.04" cy="202.78" r="1.75" fill="#22c322"/>
<polyline points="451.13,223.66 461.26,221.11 481.52,210.42 501.78,207.36 522.04,212.96" fill="none" stroke="#2a36e0" stroke-width="0.9"/>
<circle cx="451.13" cy="223.66" r="1.75" fill="#2a36e0"/>
<circle cx="461.26" cy="221.11" r="1.75" fill="#2a36e0"/>
<circle cx="481.52" cy="210.42" r="1.75" fill="#2a36e0"/>
<circle cx="501.78" cy="207.36" r="1.75" fill="#2a36e0"/>
<circle cx="522.04" cy="212.96" r="1.75" fill="#2a36e0"/>
<polyline points="451.13,236.39 461.26,235.37 481.52,233.33 501.78,232.82 522.04,234.35" fill="none" stroke="#22c8e8" stroke-width="0.9"/>
<circle cx="451.13" cy="236.39" r="1.75" fill="#22c8e8"/>
<circle cx="461.26" cy="235.37" r="1.75" fill="#22c8e8"/>
<circle cx="481.52" cy="233.33" r="1.75" fill="#22c8e8"/>
<circle cx="501.78" cy="232.82" r="1.75" fill="#22c8e8"/>
<circle cx="522.04" cy="234.35" r="1.75" fill="#22c8e8"/>
<line x1="446" y1="172.00" x2="454" y2="172.00" stroke="#1a1a1a" stroke-width="0.7"/><circle cx="450" cy="172.00" r="1.2" fill="#1a1a1a"/>
<text x="456.00" y="173.70" text-anchor="start" style="font-family:'Liberation Sans',sans-serif;font-weight:normal;font-size:4.9px" fill="#111">400nm</text>
<line x1="446" y1="177.25" x2="454" y2="177.25" stroke="#f02828" stroke-width="0.7"/><circle cx="450" cy="177.25" r="1.2" fill="#f02828"/>
<text x="456.00" y="178.95" text-anchor="start" style="font-family:'Liberation Sans',sans-serif;font-weight:normal;font-size:4.9px" fill="#111">500nm</text>
<line x1="446" y1="182.50" x2="454" y2="182.50" stroke="#22c322" stroke-width="0.7"/><circle cx="450" cy="182.50" r="1.2" fill="#22c322"/>
<text x="456.00" y="184.20" text-anchor="start" style="font-family:'Liberation Sans',sans-serif;font-weight:normal;font-size:4.9px" fill="#111">600nm</text>
<line x1="446" y1="187.75" x2="454" y2="187.75" stroke="#2a36e0" stroke-width="0.7"/><circle cx="450" cy="187.75" r="1.2" fill="#2a36e0"/>
<text x="456.00" y="189.45" text-anchor="start" style="font-family:'Liberation Sans',sans-serif;font-weight:normal;font-size:4.9px" fill="#111">700nm</text>
<line x1="446" y1="193.00" x2="454" y2="193.00" stroke="#22c8e8" stroke-width="0.7"/><circle cx="450" cy="193.00" r="1.2" fill="#22c8e8"/>
<text x="456.00" y="194.70" text-anchor="start" style="font-family:'Liberation Sans',sans-serif;font-weight:normal;font-size:4.9px" fill="#111">800nm</text>
<text x="486.00" y="227.50" text-anchor="start" style="font-family:'Liberation Sans',sans-serif;font-weight:normal;font-size:7.2px" fill="#111">V<tspan style="font-size:4.6px" dy="1.7">bias</tspan><tspan dy="-1.7"> = 0</tspan></text>
<text x="484.80" y="269.50" text-anchor="middle" style="font-family:'Liberation Sans',sans-serif;font-weight:bold;font-size:8.9px" fill="#111">Power (μW/cm<tspan style="font-size:6px" dy="-3.5">2</tspan><tspan dy="3.5">)</tspan></text>
<text transform="translate(425.5,212.8) rotate(-90)" text-anchor="middle" style="font-family:'Liberation Sans',sans-serif;font-weight:bold;font-size:7.8px" fill="#111">Detectivity<tspan style="font-size:6px" dy="2.2">trans</tspan><tspan dy="-2.2"> (Jones×10<tspan style="font-size:4.5px" dy="-2.5">12</tspan><tspan dy="2.5">)</tspan></tspan></text>
<defs><linearGradient id="pil" x1="0" y1="0" x2="0" y2="1"><stop offset="0" stop-color="#e42e24"/><stop offset="0.35" stop-color="#ee5a3a"/><stop offset="0.55" stop-color="#eca064"/><stop offset="0.7" stop-color="#c8d27a"/><stop offset="0.85" stop-color="#8ad0a8"/><stop offset="1" stop-color="#7ac0ee"/></linearGradient><linearGradient id="pilshade" x1="0" y1="0" x2="1" y2="0"><stop offset="0" stop-color="#000" stop-opacity="0.25"/><stop offset="0.45" stop-color="#fff" stop-opacity="0.25"/><stop offset="1" stop-color="#000" stop-opacity="0.2"/></linearGradient><linearGradient id="cone" x1="0" y1="0" x2="1" y2="0"><stop offset="0" stop-color="#9250ee"/><stop offset="0.45" stop-color="#8038e8"/><stop offset="0.58" stop-color="#6c1cd8"/><stop offset="1" stop-color="#9c62f0"/></linearGradient><linearGradient id="conefade" x1="0" y1="0" x2="0" y2="1"><stop offset="0" stop-color="#fff" stop-opacity="1"/><stop offset="0.5" stop-color="#fff" stop-opacity="1"/><stop offset="0.72" stop-color="#fff" stop-opacity="0.72"/><stop offset="1" stop-color="#fff" stop-opacity="0.55"/></linearGradient><mask id="conemask" maskUnits="userSpaceOnUse" x="100" y="280" width="70" height="70"><rect x="100" y="280" width="70" height="70" fill="url(#conefade)"/></mask></defs>
<rect x="56" y="296.7" width="1.8" height="20.1" fill="#e0e0e0"/>
<rect x="56" y="316.6" width="1.8" height="33.2" fill="#c81818"/>
<rect x="56" y="349.8" width="1.8" height="22.6" fill="#f4c090"/>
<rect x="56" y="372.4" width="1.8" height="21.3" fill="#d8d8d8"/>
<text x="53.00" y="310.60" text-anchor="end" style="font-family:'Liberation Serif',serif;font-weight:bold;font-size:8.8px" fill="#222">Ag</text>
<text x="53.00" y="336.40" text-anchor="end" style="font-family:'Liberation Serif',serif;font-weight:bold;font-size:8.8px" fill="#222">FP</text>
<text x="53.00" y="363.60" text-anchor="end" style="font-family:'Liberation Serif',serif;font-weight:bold;font-size:8.8px" fill="#222">ITO</text>
<text x="53.00" y="388.50" text-anchor="end" style="font-family:'Liberation Serif',serif;font-weight:bold;font-size:8.8px" fill="#222">Glass</text>
<polygon points="57.9,375.6 153.3,391.8 153.3,398.8 57.9,382.6" fill="#b9b9b9"/>
<polygon points="153.3,391.8 202.2,361.8 202.2,368.8 153.3,398.8" fill="#c8c8c8"/>
<polygon points="57.9,377.6 153.3,393.8 153.3,395.0 57.9,378.8" fill="#e9b27a"/>
<polygon points="153.3,393.8 202.2,363.8 202.2,365.0 153.3,395.0" fill="#f0c08a"/>
<polygon points="57.9,375.6 153.3,391.8 153.3,393.8 57.9,377.6" fill="#b81010"/>
<polygon points="153.3,391.8 202.2,361.8 202.2,363.8 153.3,393.8" fill="#c41a14"/>
<polygon points="57.9,375.6 106.8,345.6 202.2,361.8 153.3,391.8" fill="#d41a1a"/>
<rect x="103.95" y="315.90" width="6.20" height="34.50" fill="url(#pil)"/>
<rect x="103.95" y="315.90" width="6.20" height="34.50" fill="url(#pilshade)"/>
<ellipse cx="107.05" cy="315.90" rx="3.10" ry="1.5" fill="#e02a22"/>
<ellipse cx="107.05" cy="316.10" rx="2.30" ry="0.9" fill="#c81c18"/>
<rect x="114.55" y="317.70" width="6.20" height="34.50" fill="url(#pil)"/>
<rect x="114.55" y="317.70" width="6.20" height="34.50" fill="url(#pilshade)"/>
<ellipse cx="117.65" cy="317.70" rx="3.10" ry="1.5" fill="#e02a22"/>
<ellipse cx="117.65" cy="317.90" rx="2.30" ry="0.9" fill="#c81c18"/>
<rect x="125.15" y="319.50" width="6.20" height="34.50" fill="url(#pil)"/>
<rect x="125.15" y="319.50" width="6.20" height="34.50" fill="url(#pilshade)"/>
<ellipse cx="128.25" cy="319.50" rx="3.10" ry="1.5" fill="#e02a22"/>
<ellipse cx="128.25" cy="319.70" rx="2.30" ry="0.9" fill="#c81c18"/>
<rect x="135.75" y="321.30" width="6.20" height="34.50" fill="url(#pil)"/>
<rect x="135.75" y="321.30" width="6.20" height="34.50" fill="url(#pilshade)"/>
<ellipse cx="138.85" cy="321.30" rx="3.10" ry="1.5" fill="#e02a22"/>
<ellipse cx="138.85" cy="321.50" rx="2.30" ry="0.9" fill="#c81c18"/>
<rect x="146.35" y="323.10" width="6.20" height="34.50" fill="url(#pil)"/>
<rect x="146.35" y="323.10" width="6.20" height="34.50" fill="url(#pilshade)"/>
<ellipse cx="149.45" cy="323.10" rx="3.10" ry="1.5" fill="#e02a22"/>
<ellipse cx="149.45" cy="323.30" rx="2.30" ry="0.9" fill="#c81c18"/>
<rect x="156.95" y="324.90" width="6.20" height="34.50" fill="url(#pil)"/>
<rect x="156.95" y="324.90" width="6.20" height="34.50" fill="url(#pilshade)"/>
<ellipse cx="160.05" cy="324.90" rx="3.10" ry="1.5" fill="#e02a22"/>
<ellipse cx="160.05" cy="325.10" rx="2.30" ry="0.9" fill="#c81c18"/>
<rect x="167.55" y="326.70" width="6.20" height="34.50" fill="url(#pil)"/>
<rect x="167.55" y="326.70" width="6.20" height="34.50" fill="url(#pilshade)"/>
<ellipse cx="170.65" cy="326.70" rx="3.10" ry="1.5" fill="#e02a22"/>
<ellipse cx="170.65" cy="326.90" rx="2.30" ry="0.9" fill="#c81c18"/>
<rect x="178.15" y="328.50" width="6.20" height="34.50" fill="url(#pil)"/>
<rect x="178.15" y="328.50" width="6.20" height="34.50" fill="url(#pilshade)"/>
<ellipse cx="181.25" cy="328.50" rx="3.10" ry="1.5" fill="#e02a22"/>
<ellipse cx="181.25" cy="328.70" rx="2.30" ry="0.9" fill="#c81c18"/>
<rect x="188.75" y="330.30" width="6.20" height="34.50" fill="url(#pil)"/>
<rect x="188.75" y="330.30" width="6.20" height="34.50" fill="url(#pilshade)"/>
<ellipse cx="191.85" cy="330.30" rx="3.10" ry="1.5" fill="#e02a22"/>
<ellipse cx="191.85" cy="330.50" rx="2.30" ry="0.9" fill="#c81c18"/>
<rect x="95.80" y="320.90" width="6.20" height="34.50" fill="url(#pil)"/>
<rect x="95.80" y="320.90" width="6.20" height="34.50" fill="url(#pilshade)"/>
<ellipse cx="98.90" cy="320.90" rx="3.10" ry="1.5" fill="#e02a22"/>
<ellipse cx="98.90" cy="321.10" rx="2.30" ry="0.9" fill="#c81c18"/>
<rect x="106.40" y="322.70" width="6.20" height="34.50" fill="url(#pil)"/>
<rect x="106.40" y="322.70" width="6.20" height="34.50" fill="url(#pilshade)"/>
<ellipse cx="109.50" cy="322.70" rx="3.10" ry="1.5" fill="#e02a22"/>
<ellipse cx="109.50" cy="322.90" rx="2.30" ry="0.9" fill="#c81c18"/>
<rect x="117.00" y="324.50" width="6.20" height="34.50" fill="url(#pil)"/>
<rect x="117.00" y="324.50" width="6.20" height="34.50" fill="url(#pilshade)"/>
<ellipse cx="120.10" cy="324.50" rx="3.10" ry="1.5" fill="#e02a22"/>
<ellipse cx="120.10" cy="324.70" rx="2.30" ry="0.9" fill="#c81c18"/>
<rect x="127.60" y="326.30" width="6.20" height="34.50" fill="url(#pil)"/>
<rect x="127.60" y="326.30" width="6.20" height="34.50" fill="url(#pilshade)"/>
<ellipse cx="130.70" cy="326.30" rx="3.10" ry="1.5" fill="#e02a22"/>
<ellipse cx="130.70" cy="326.50" rx="2.30" ry="0.9" fill="#c81c18"/>
<rect x="138.20" y="328.10" width="6.20" height="34.50" fill="url(#pil)"/>
<rect x="138.20" y="328.10" width="6.20" height="34.50" fill="url(#pilshade)"/>
<ellipse cx="141.30" cy="328.10" rx="3.10" ry="1.5" fill="#e02a22"/>
<ellipse cx="141.30" cy="328.30" rx="2.30" ry="0.9" fill="#c81c18"/>
<rect x="148.80" y="329.90" width="6.20" height="34.50" fill="url(#pil)"/>
<rect x="148.80" y="329.90" width="6.20" height="34.50" fill="url(#pilshade)"/>
<ellipse cx="151.90" cy="329.90" rx="3.10" ry="1.5" fill="#e02a22"/>
<ellipse cx="151.90" cy="330.10" rx="2.30" ry="0.9" fill="#c81c18"/>
<rect x="159.40" y="331.70" width="6.20" height="34.50" fill="url(#pil)"/>
<rect x="159.40" y="331.70" width="6.20" height="34.50" fill="url(#pilshade)"/>
<ellipse cx="162.50" cy="331.70" rx="3.10" ry="1.5" fill="#e02a22"/>
<ellipse cx="162.50" cy="331.90" rx="2.30" ry="0.9" fill="#c81c18"/>
<rect x="170.00" y="333.50" width="6.20" height="34.50" fill="url(#pil)"/>
<rect x="170.00" y="333.50" width="6.20" height="34.50" fill="url(#pilshade)"/>
<ellipse cx="173.10" cy="333.50" rx="3.10" ry="1.5" fill="#e02a22"/>
<ellipse cx="173.10" cy="333.70" rx="2.30" ry="0.9" fill="#c81c18"/>
<rect x="180.60" y="335.30" width="6.20" height="34.50" fill="url(#pil)"/>
<rect x="180.60" y="335.30" width="6.20" height="34.50" fill="url(#pilshade)"/>
<ellipse cx="183.70" cy="335.30" rx="3.10" ry="1.5" fill="#e02a22"/>
<ellipse cx="183.70" cy="335.50" rx="2.30" ry="0.9" fill="#c81c18"/>
<rect x="87.65" y="325.90" width="6.20" height="34.50" fill="url(#pil)"/>
<rect x="87.65" y="325.90" width="6.20" height="34.50" fill="url(#pilshade)"/>
<ellipse cx="90.75" cy="325.90" rx="3.10" ry="1.5" fill="#e02a22"/>
<ellipse cx="90.75" cy="326.10" rx="2.30" ry="0.9" fill="#c81c18"/>
<rect x="98.25" y="327.70" width="6.20" height="34.50" fill="url(#pil)"/>
<rect x="98.25" y="327.70" width="6.20" height="34.50" fill="url(#pilshade)"/>
<ellipse cx="101.35" cy="327.70" rx="3.10" ry="1.5" fill="#e02a22"/>
<ellipse cx="101.35" cy="327.90" rx="2.30" ry="0.9" fill="#c81c18"/>
<rect x="108.85" y="329.50" width="6.20" height="34.50" fill="url(#pil)"/>
<rect x="108.85" y="329.50" width="6.20" height="34.50" fill="url(#pilshade)"/>
<ellipse cx="111.95" cy="329.50" rx="3.10" ry="1.5" fill="#e02a22"/>
<ellipse cx="111.95" cy="329.70" rx="2.30" ry="0.9" fill="#c81c18"/>
<rect x="119.45" y="331.30" width="6.20" height="34.50" fill="url(#pil)"/>
<rect x="119.45" y="331.30" width="6.20" height="34.50" fill="url(#pilshade)"/>
<ellipse cx="122.55" cy="331.30" rx="3.10" ry="1.5" fill="#e02a22"/>
<ellipse cx="122.55" cy="331.50" rx="2.30" ry="0.9" fill="#c81c18"/>
<rect x="130.05" y="333.10" width="6.20" height="34.50" fill="url(#pil)"/>
<rect x="130.05" y="333.10" width="6.20" height="34.50" fill="url(#pilshade)"/>
<ellipse cx="133.15" cy="333.10" rx="3.10" ry="1.5" fill="#e02a22"/>
<ellipse cx="133.15" cy="333.30" rx="2.30" ry="0.9" fill="#c81c18"/>
<rect x="140.65" y="334.90" width="6.20" height="34.50" fill="url(#pil)"/>
<rect x="140.65" y="334.90" width="6.20" height="34.50" fill="url(#pilshade)"/>
<ellipse cx="143.75" cy="334.90" rx="3.10" ry="1.5" fill="#e02a22"/>
<ellipse cx="143.75" cy="335.10" rx="2.30" ry="0.9" fill="#c81c18"/>
<rect x="151.25" y="336.70" width="6.20" height="34.50" fill="url(#pil)"/>
<rect x="151.25" y="336.70" width="6.20" height="34.50" fill="url(#pilshade)"/>
<ellipse cx="154.35" cy="336.70" rx="3.10" ry="1.5" fill="#e02a22"/>
<ellipse cx="154.35" cy="336.90" rx="2.30" ry="0.9" fill="#c81c18"/>
<rect x="161.85" y="338.50" width="6.20" height="34.50" fill="url(#pil)"/>
<rect x="161.85" y="338.50" width="6.20" height="34.50" fill="url(#pilshade)"/>
<ellipse cx="164.95" cy="338.50" rx="3.10" ry="1.5" fill="#e02a22"/>
<ellipse cx="164.95" cy="338.70" rx="2.30" ry="0.9" fill="#c81c18"/>
<rect x="172.45" y="340.30" width="6.20" height="34.50" fill="url(#pil)"/>
<rect x="172.45" y="340.30" width="6.20" height="34.50" fill="url(#pilshade)"/>
<ellipse cx="175.55" cy="340.30" rx="3.10" ry="1.5" fill="#e02a22"/>
<ellipse cx="175.55" cy="340.50" rx="2.30" ry="0.9" fill="#c81c18"/>
<rect x="79.50" y="330.90" width="6.20" height="34.50" fill="url(#pil)"/>
<rect x="79.50" y="330.90" width="6.20" height="34.50" fill="url(#pilshade)"/>
<ellipse cx="82.60" cy="330.90" rx="3.10" ry="1.5" fill="#e02a22"/>
<ellipse cx="82.60" cy="331.10" rx="2.30" ry="0.9" fill="#c81c18"/>
<rect x="90.10" y="332.70" width="6.20" height="34.50" fill="url(#pil)"/>
<rect x="90.10" y="332.70" width="6.20" height="34.50" fill="url(#pilshade)"/>
<ellipse cx="93.20" cy="332.70" rx="3.10" ry="1.5" fill="#e02a22"/>
<ellipse cx="93.20" cy="332.90" rx="2.30" ry="0.9" fill="#c81c18"/>
<rect x="100.70" y="334.50" width="6.20" height="34.50" fill="url(#pil)"/>
<rect x="100.70" y="334.50" width="6.20" height="34.50" fill="url(#pilshade)"/>
<ellipse cx="103.80" cy="334.50" rx="3.10" ry="1.5" fill="#e02a22"/>
<ellipse cx="103.80" cy="334.70" rx="2.30" ry="0.9" fill="#c81c18"/>
<rect x="111.30" y="336.30" width="6.20" height="34.50" fill="url(#pil)"/>
<rect x="111.30" y="336.30" width="6.20" height="34.50" fill="url(#pilshade)"/>
<ellipse cx="114.40" cy="336.30" rx="3.10" ry="1.5" fill="#e02a22"/>
<ellipse cx="114.40" cy="336.50" rx="2.30" ry="0.9" fill="#c81c18"/>
<rect x="121.90" y="338.10" width="6.20" height="34.50" fill="url(#pil)"/>
<rect x="121.90" y="338.10" width="6.20" height="34.50" fill="url(#pilshade)"/>
<ellipse cx="125.00" cy="338.10" rx="3.10" ry="1.5" fill="#e02a22"/>
<ellipse cx="125.00" cy="338.30" rx="2.30" ry="0.9" fill="#c81c18"/>
<rect x="132.50" y="339.90" width="6.20" height="34.50" fill="url(#pil)"/>
<rect x="132.50" y="339.90" width="6.20" height="34.50" fill="url(#pilshade)"/>
<ellipse cx="135.60" cy="339.90" rx="3.10" ry="1.5" fill="#e02a22"/>
<ellipse cx="135.60" cy="340.10" rx="2.30" ry="0.9" fill="#c81c18"/>
<rect x="143.10" y="341.70" width="6.20" height="34.50" fill="url(#pil)"/>
<rect x="143.10" y="341.70" width="6.20" height="34.50" fill="url(#pilshade)"/>
<ellipse cx="146.20" cy="341.70" rx="3.10" ry="1.5" fill="#e02a22"/>
<ellipse cx="146.20" cy="341.90" rx="2.30" ry="0.9" fill="#c81c18"/>
<rect x="153.70" y="343.50" width="6.20" height="34.50" fill="url(#pil)"/>
<rect x="153.70" y="343.50" width="6.20" height="34.50" fill="url(#pilshade)"/>
<ellipse cx="156.80" cy="343.50" rx="3.10" ry="1.5" fill="#e02a22"/>
<ellipse cx="156.80" cy="343.70" rx="2.30" ry="0.9" fill="#c81c18"/>
<rect x="164.30" y="345.30" width="6.20" height="34.50" fill="url(#pil)"/>
<rect x="164.30" y="345.30" width="6.20" height="34.50" fill="url(#pilshade)"/>
<ellipse cx="167.40" cy="345.30" rx="3.10" ry="1.5" fill="#e02a22"/>
<ellipse cx="167.40" cy="345.50" rx="2.30" ry="0.9" fill="#c81c18"/>
<rect x="71.35" y="335.90" width="6.20" height="34.50" fill="url(#pil)"/>
<rect x="71.35" y="335.90" width="6.20" height="34.50" fill="url(#pilshade)"/>
<ellipse cx="74.45" cy="335.90" rx="3.10" ry="1.5" fill="#e02a22"/>
<ellipse cx="74.45" cy="336.10" rx="2.30" ry="0.9" fill="#c81c18"/>
<rect x="81.95" y="337.70" width="6.20" height="34.50" fill="url(#pil)"/>
<rect x="81.95" y="337.70" width="6.20" height="34.50" fill="url(#pilshade)"/>
<ellipse cx="85.05" cy="337.70" rx="3.10" ry="1.5" fill="#e02a22"/>
<ellipse cx="85.05" cy="337.90" rx="2.30" ry="0.9" fill="#c81c18"/>
<rect x="92.55" y="339.50" width="6.20" height="34.50" fill="url(#pil)"/>
<rect x="92.55" y="339.50" width="6.20" height="34.50" fill="url(#pilshade)"/>
<ellipse cx="95.65" cy="339.50" rx="3.10" ry="1.5" fill="#e02a22"/>
<ellipse cx="95.65" cy="339.70" rx="2.30" ry="0.9" fill="#c81c18"/>
<rect x="103.15" y="341.30" width="6.20" height="34.50" fill="url(#pil)"/>
<rect x="103.15" y="341.30" width="6.20" height="34.50" fill="url(#pilshade)"/>
<ellipse cx="106.25" cy="341.30" rx="3.10" ry="1.5" fill="#e02a22"/>
<ellipse cx="106.25" cy="341.50" rx="2.30" ry="0.9" fill="#c81c18"/>
<rect x="113.75" y="343.10" width="6.20" height="34.50" fill="url(#pil)"/>
<rect x="113.75" y="343.10" width="6.20" height="34.50" fill="url(#pilshade)"/>
<ellipse cx="116.85" cy="343.10" rx="3.10" ry="1.5" fill="#e02a22"/>
<ellipse cx="116.85" cy="343.30" rx="2.30" ry="0.9" fill="#c81c18"/>
<rect x="124.35" y="344.90" width="6.20" height="34.50" fill="url(#pil)"/>
<rect x="124.35" y="344.90" width="6.20" height="34.50" fill="url(#pilshade)"/>
<ellipse cx="127.45" cy="344.90" rx="3.10" ry="1.5" fill="#e02a22"/>
<ellipse cx="127.45" cy="345.10" rx="2.30" ry="0.9" fill="#c81c18"/>
<rect x="134.95" y="346.70" width="6.20" height="34.50" fill="url(#pil)"/>
<rect x="134.95" y="346.70" width="6.20" height="34.50" fill="url(#pilshade)"/>
<ellipse cx="138.05" cy="346.70" rx="3.10" ry="1.5" fill="#e02a22"/>
<ellipse cx="138.05" cy="346.90" rx="2.30" ry="0.9" fill="#c81c18"/>
<rect x="145.55" y="348.50" width="6.20" height="34.50" fill="url(#pil)"/>
<rect x="145.55" y="348.50" width="6.20" height="34.50" fill="url(#pilshade)"/>
<ellipse cx="148.65" cy="348.50" rx="3.10" ry="1.5" fill="#e02a22"/>
<ellipse cx="148.65" cy="348.70" rx="2.30" ry="0.9" fill="#c81c18"/>
<rect x="156.15" y="350.30" width="6.20" height="34.50" fill="url(#pil)"/>
<rect x="156.15" y="350.30" width="6.20" height="34.50" fill="url(#pilshade)"/>
<ellipse cx="159.25" cy="350.30" rx="3.10" ry="1.5" fill="#e02a22"/>
<ellipse cx="159.25" cy="350.50" rx="2.30" ry="0.9" fill="#c81c18"/>
<rect x="63.20" y="340.90" width="6.20" height="34.50" fill="url(#pil)"/>
<rect x="63.20" y="340.90" width="6.20" height="34.50" fill="url(#pilshade)"/>
<ellipse cx="66.30" cy="340.90" rx="3.10" ry="1.5" fill="#e02a22"/>
<ellipse cx="66.30" cy="341.10" rx="2.30" ry="0.9" fill="#c81c18"/>
<rect x="73.80" y="342.70" width="6.20" height="34.50" fill="url(#pil)"/>
<rect x="73.80" y="342.70" width="6.20" height="34.50" fill="url(#pilshade)"/>
<ellipse cx="76.90" cy="342.70" rx="3.10" ry="1.5" fill="#e02a22"/>
<ellipse cx="76.90" cy="342.90" rx="2.30" ry="0.9" fill="#c81c18"/>
<rect x="84.40" y="344.50" width="6.20" height="34.50" fill="url(#pil)"/>
<rect x="84.40" y="344.50" width="6.20" height="34.50" fill="url(#pilshade)"/>
<ellipse cx="87.50" cy="344.50" rx="3.10" ry="1.5" fill="#e02a22"/>
<ellipse cx="87.50" cy="344.70" rx="2.30" ry="0.9" fill="#c81c18"/>
<rect x="95.00" y="346.30" width="6.20" height="34.50" fill="url(#pil)"/>
<rect x="95.00" y="346.30" width="6.20" height="34.50" fill="url(#pilshade)"/>
<ellipse cx="98.10" cy="346.30" rx="3.10" ry="1.5" fill="#e02a22"/>
<ellipse cx="98.10" cy="346.50" rx="2.30" ry="0.9" fill="#c81c18"/>
<rect x="105.60" y="348.10" width="6.20" height="34.50" fill="url(#pil)"/>
<rect x="105.60" y="348.10" width="6.20" height="34.50" fill="url(#pilshade)"/>
<ellipse cx="108.70" cy="348.10" rx="3.10" ry="1.5" fill="#e02a22"/>
<ellipse cx="108.70" cy="348.30" rx="2.30" ry="0.9" fill="#c81c18"/>
<rect x="116.20" y="349.90" width="6.20" height="34.50" fill="url(#pil)"/>
<rect x="116.20" y="349.90" width="6.20" height="34.50" fill="url(#pilshade)"/>
<ellipse cx="119.30" cy="349.90" rx="3.10" ry="1.5" fill="#e02a22"/>
<ellipse cx="119.30" cy="350.10" rx="2.30" ry="0.9" fill="#c81c18"/>
<rect x="126.80" y="351.70" width="6.20" height="34.50" fill="url(#pil)"/>
<rect x="126.80" y="351.70" width="6.20" height="34.50" fill="url(#pilshade)"/>
<ellipse cx="129.90" cy="351.70" rx="3.10" ry="1.5" fill="#e02a22"/>
<ellipse cx="129.90" cy="351.90" rx="2.30" ry="0.9" fill="#c81c18"/>
<rect x="137.40" y="353.50" width="6.20" height="34.50" fill="url(#pil)"/>
<rect x="137.40" y="353.50" width="6.20" height="34.50" fill="url(#pilshade)"/>
<ellipse cx="140.50" cy="353.50" rx="3.10" ry="1.5" fill="#e02a22"/>
<ellipse cx="140.50" cy="353.70" rx="2.30" ry="0.9" fill="#c81c18"/>
<rect x="148.00" y="355.30" width="6.20" height="34.50" fill="url(#pil)"/>
<rect x="148.00" y="355.30" width="6.20" height="34.50" fill="url(#pilshade)"/>
<ellipse cx="151.10" cy="355.30" rx="3.10" ry="1.5" fill="#e02a22"/>
<ellipse cx="151.10" cy="355.50" rx="2.30" ry="0.9" fill="#c81c18"/>
<path d="M118.6,283.8 L150.4,283.8 L159.5,325 Q150,341 125,342 Q112,339 109.2,331.5 Z" fill="url(#cone)" mask="url(#conemask)"/>
<rect x="118.6" y="283.4" width="31.8" height="0.8" fill="#9a6af0"/>
<polygon points="120.7,349.9 151.7,356.7 151.7,360.5 120.7,353.7" fill="#dcdcdc" stroke="#999" stroke-width="0.3"/>
<polygon points="151.7,356.7 198.2,326.6 198.2,330.4 151.7,360.5" fill="#f6f6f6" stroke="#8a8a8a" stroke-width="0.4"/>
<polygon points="120.7,349.9 167.2,320.0 198.2,326.6 151.7,356.7" fill="#c9c9cb" opacity="0.95"/>
<ellipse cx="130.9" cy="360.7" rx="2.4" ry="1.2" fill="#b0b0b8" opacity="0.6"/>
<ellipse cx="139.0" cy="355.7" rx="2.4" ry="1.2" fill="#b0b0b8" opacity="0.6"/>
<ellipse cx="147.2" cy="350.7" rx="2.4" ry="1.2" fill="#b0b0b8" opacity="0.6"/>
<ellipse cx="155.3" cy="345.7" rx="2.4" ry="1.2" fill="#b0b0b8" opacity="0.6"/>
<ellipse cx="163.5" cy="340.7" rx="2.4" ry="1.2" fill="#b0b0b8" opacity="0.6"/>
<ellipse cx="171.6" cy="335.7" rx="2.4" ry="1.2" fill="#b0b0b8" opacity="0.6"/>
<ellipse cx="141.5" cy="362.5" rx="2.4" ry="1.2" fill="#b0b0b8" opacity="0.6"/>
<ellipse cx="149.7" cy="357.5" rx="2.4" ry="1.2" fill="#b0b0b8" opacity="0.6"/>
<ellipse cx="157.8" cy="352.5" rx="2.4" ry="1.2" fill="#b0b0b8" opacity="0.6"/>
<ellipse cx="165.9" cy="347.5" rx="2.4" ry="1.2" fill="#b0b0b8" opacity="0.6"/>
<ellipse cx="174.1" cy="342.5" rx="2.4" ry="1.2" fill="#b0b0b8" opacity="0.6"/>
<ellipse cx="182.2" cy="337.5" rx="2.4" ry="1.2" fill="#b0b0b8" opacity="0.6"/>
<ellipse cx="152.1" cy="364.3" rx="2.4" ry="1.2" fill="#b0b0b8" opacity="0.6"/>
<ellipse cx="160.2" cy="359.3" rx="2.4" ry="1.2" fill="#b0b0b8" opacity="0.6"/>
<ellipse cx="168.4" cy="354.3" rx="2.4" ry="1.2" fill="#b0b0b8" opacity="0.6"/>
<ellipse cx="176.6" cy="349.3" rx="2.4" ry="1.2" fill="#b0b0b8" opacity="0.6"/>
<ellipse cx="184.7" cy="344.3" rx="2.4" ry="1.2" fill="#b0b0b8" opacity="0.6"/>
<ellipse cx="192.8" cy="339.3" rx="2.4" ry="1.2" fill="#b0b0b8" opacity="0.6"/>
<circle cx="151.1" cy="362.3" r="1.8" fill="#7a8ad8" stroke="#334" stroke-width="0.3"/>
<circle cx="151.1" cy="384.8" r="1.9" fill="#e0b070" stroke="#553" stroke-width="0.4"/>
<circle cx="159.2" cy="357.3" r="1.8" fill="#7a8ad8" stroke="#334" stroke-width="0.3"/>
<circle cx="159.2" cy="379.8" r="1.9" fill="#e0b070" stroke="#553" stroke-width="0.4"/>
<circle cx="167.4" cy="352.3" r="1.8" fill="#7a8ad8" stroke="#334" stroke-width="0.3"/>
<circle cx="167.4" cy="374.8" r="1.9" fill="#e0b070" stroke="#553" stroke-width="0.4"/>
<circle cx="175.6" cy="347.3" r="1.8" fill="#7a8ad8" stroke="#334" stroke-width="0.3"/>
<circle cx="175.6" cy="369.8" r="1.9" fill="#e0b070" stroke="#553" stroke-width="0.4"/>
<circle cx="183.7" cy="342.3" r="1.8" fill="#7a8ad8" stroke="#334" stroke-width="0.3"/>
<circle cx="183.7" cy="364.8" r="1.9" fill="#e0b070" stroke="#553" stroke-width="0.4"/>
<circle cx="191.8" cy="337.3" r="1.8" fill="#7a8ad8" stroke="#334" stroke-width="0.3"/>
<circle cx="191.8" cy="359.8" r="1.9" fill="#e0b070" stroke="#553" stroke-width="0.4"/>
<path d="M197.4,328.6 L211.4,328.6 L211.4,346.3 M211.4,354.5 L211.4,371.6 M198.5,368.6 L209.5,371.2" fill="none" stroke="#444" stroke-width="0.7"/>
<polygon points="211,371.6 207.6,369.2 207.2,373.2" fill="#222"/>
<circle cx="211.4" cy="350.4" r="4.1" fill="#fff" stroke="#444" stroke-width="0.7"/>
<text x="211.40" y="352.20" text-anchor="middle" style="font-family:'Liberation Sans',sans-serif;font-weight:normal;font-size:4.6px" fill="#333">A</text>
<text transform="translate(222.5,346.5) rotate(-90)" text-anchor="middle" style="font-family:'Liberation Serif',serif;font-weight:bold;font-size:7.4px" fill="#222">Current (nA)</text>
<path d="M150,372 L150,378" stroke="#333" stroke-width="0.6"/><polygon points="148.4,376 151.6,376 150,379" fill="#333"/>
<line x1="272.9" y1="289.7" x2="381.0" y2="289.7" stroke="#222" stroke-width="0.7"/>
<line x1="272.9" y1="377" x2="381.0" y2="377" stroke="#222" stroke-width="0.8"/>
<line x1="272.9" y1="289.7" x2="272.9" y2="377" stroke="#3a55c8" stroke-width="0.9"/>
<line x1="381.0" y1="289.7" x2="381.0" y2="377" stroke="#e8207a" stroke-width="0.9"/>
<line x1="272.9" y1="377.00" x2="274.7" y2="377.00" stroke="#3a55c8" stroke-width="0.6"/>
<text x="270.70" y="378.90" text-anchor="end" style="font-family:'Liberation Serif',serif;font-weight:bold;font-size:5.5px" fill="#3a55c8">0</text>
<line x1="272.9" y1="357.62" x2="274.7" y2="357.62" stroke="#3a55c8" stroke-width="0.6"/>
<text x="270.70" y="359.52" text-anchor="end" style="font-family:'Liberation Serif',serif;font-weight:bold;font-size:5.5px" fill="#3a55c8">-200</text>
<line x1="272.9" y1="338.25" x2="274.7" y2="338.25" stroke="#3a55c8" stroke-width="0.6"/>
<text x="270.70" y="340.15" text-anchor="end" style="font-family:'Liberation Serif',serif;font-weight:bold;font-size:5.5px" fill="#3a55c8">-400</text>
<line x1="272.9" y1="318.88" x2="274.7" y2="318.88" stroke="#3a55c8" stroke-width="0.6"/>
<text x="270.70" y="320.77" text-anchor="end" style="font-family:'Liberation Serif',serif;font-weight:bold;font-size:5.5px" fill="#3a55c8">-600</text>
<line x1="272.9" y1="299.50" x2="274.7" y2="299.50" stroke="#3a55c8" stroke-width="0.6"/>
<text x="270.70" y="301.40" text-anchor="end" style="font-family:'Liberation Serif',serif;font-weight:bold;font-size:5.5px" fill="#3a55c8">-800</text>
<line x1="381.0" y1="301.99" x2="379.2" y2="301.99" stroke="#e8207a" stroke-width="0.6"/>
<text x="383.20" y="303.99" text-anchor="start" style="font-family:'Liberation Serif',serif;font-weight:bold;font-size:5.6px" fill="#e8207a">10<tspan style="font-size:3.8px" dy="-2.2">-1</tspan></text>
<line x1="381.0" y1="326.66" x2="379.2" y2="326.66" stroke="#e8207a" stroke-width="0.6"/>
<text x="383.20" y="328.66" text-anchor="start" style="font-family:'Liberation Serif',serif;font-weight:bold;font-size:5.6px" fill="#e8207a">10<tspan style="font-size:3.8px" dy="-2.2">-2</tspan></text>
<line x1="381.0" y1="351.33" x2="379.2" y2="351.33" stroke="#e8207a" stroke-width="0.6"/>
<text x="383.20" y="353.33" text-anchor="start" style="font-family:'Liberation Serif',serif;font-weight:bold;font-size:5.6px" fill="#e8207a">10<tspan style="font-size:3.8px" dy="-2.2">-3</tspan></text>
<line x1="381.0" y1="376.00" x2="379.2" y2="376.00" stroke="#e8207a" stroke-width="0.6"/>
<text x="383.20" y="378.00" text-anchor="start" style="font-family:'Liberation Serif',serif;font-weight:bold;font-size:5.6px" fill="#e8207a">10<tspan style="font-size:3.8px" dy="-2.2">-4</tspan></text>
<line x1="278.50" y1="377" x2="278.50" y2="375.2" stroke="#222" stroke-width="0.6"/>
<text x="278.50" y="385.40" text-anchor="middle" style="font-family:'Liberation Serif',serif;font-weight:bold;font-size:5.8px" fill="#222">0</text>
<line x1="297.82" y1="377" x2="297.82" y2="375.2" stroke="#222" stroke-width="0.6"/>
<text x="297.82" y="385.40" text-anchor="middle" style="font-family:'Liberation Serif',serif;font-weight:bold;font-size:5.8px" fill="#222">2</text>
<line x1="317.14" y1="377" x2="317.14" y2="375.2" stroke="#222" stroke-width="0.6"/>
<text x="317.14" y="385.40" text-anchor="middle" style="font-family:'Liberation Serif',serif;font-weight:bold;font-size:5.8px" fill="#222">4</text>
<line x1="336.46" y1="377" x2="336.46" y2="375.2" stroke="#222" stroke-width="0.6"/>
<text x="336.46" y="385.40" text-anchor="middle" style="font-family:'Liberation Serif',serif;font-weight:bold;font-size:5.8px" fill="#222">6</text>
<line x1="355.78" y1="377" x2="355.78" y2="375.2" stroke="#222" stroke-width="0.6"/>
<text x="355.78" y="385.40" text-anchor="middle" style="font-family:'Liberation Serif',serif;font-weight:bold;font-size:5.8px" fill="#222">8</text>
<line x1="375.10" y1="377" x2="375.10" y2="375.2" stroke="#222" stroke-width="0.6"/>
<text x="375.10" y="385.40" text-anchor="middle" style="font-family:'Liberation Serif',serif;font-weight:bold;font-size:5.8px" fill="#222">10</text>
<text x="326.80" y="395.60" text-anchor="middle" style="font-family:'Liberation Serif',serif;font-weight:bold;font-size:6.4px" fill="#222">Power density (mW cm<tspan style="font-size:4.4px" dy="-2.6">−2</tspan><tspan dy="2.6">)</tspan></text>
<text transform="translate(254.8,334) rotate(-90)" text-anchor="middle" style="font-family:'Liberation Serif',serif;font-weight:bold;font-size:6.4px" fill="#3a55c8">Current (nA)</text>
<text transform="translate(397.8,333.8) rotate(-90)" text-anchor="middle" style="font-family:'Liberation Serif',serif;font-weight:bold;font-size:7.6px" fill="#e8207a">R (A/W)</text>
<polyline points="278.60,375.06 278.98,372.16 279.47,370.22 280.43,368.77 282.36,368.48 285.26,368.28 304.58,364.89 325.83,364.41 342.26,361.02 375.10,358.11" fill="none" stroke="#3a55c8" stroke-width="0.8"/>
<polygon points="276.51,375.06 280.31,373.16 280.31,376.96" fill="#3a55c8"/>
<polygon points="276.89,372.16 280.69,370.26 280.69,374.06" fill="#3a55c8"/>
<polygon points="277.38,370.22 281.18,368.32 281.18,372.12" fill="#3a55c8"/>
<polygon points="278.34,368.77 282.14,366.87 282.14,370.67" fill="#3a55c8"/>
<polygon points="280.27,368.48 284.07,366.58 284.07,370.38" fill="#3a55c8"/>
<polygon points="283.17,368.28 286.97,366.38 286.97,370.18" fill="#3a55c8"/>
<polygon points="302.49,364.89 306.29,362.99 306.29,366.79" fill="#3a55c8"/>
<polygon points="323.74,364.41 327.54,362.51 327.54,366.31" fill="#3a55c8"/>
<polygon points="340.17,361.02 343.97,359.12 343.97,362.92" fill="#3a55c8"/>
<polygon points="373.01,358.11 376.81,356.21 376.81,360.01" fill="#3a55c8"/>
<polyline points="278.60,374.09 278.98,370.22 279.47,367.31 280.43,359.56 282.36,358.59 285.26,355.69 304.58,339.22 325.83,331.47 342.26,328.08 375.10,326.62" fill="none" stroke="#3a55c8" stroke-width="0.8"/>
<rect x="276.70" y="372.19" width="3.80" height="3.80" fill="#3a55c8"/>
<rect x="277.08" y="368.32" width="3.80" height="3.80" fill="#3a55c8"/>
<rect x="277.57" y="365.41" width="3.80" height="3.80" fill="#3a55c8"/>
<rect x="278.53" y="357.66" width="3.80" height="3.80" fill="#3a55c8"/>
<rect x="280.46" y="356.69" width="3.80" height="3.80" fill="#3a55c8"/>
<rect x="283.36" y="353.79" width="3.80" height="3.80" fill="#3a55c8"/>
<rect x="302.68" y="337.32" width="3.80" height="3.80" fill="#3a55c8"/>
<rect x="323.93" y="329.57" width="3.80" height="3.80" fill="#3a55c8"/>
<rect x="340.36" y="326.18" width="3.80" height="3.80" fill="#3a55c8"/>
<rect x="373.20" y="324.73" width="3.80" height="3.80" fill="#3a55c8"/>
<polyline points="278.60,373.12 278.98,369.25 279.47,365.38 280.43,359.08 282.36,357.62 285.26,357.62 304.58,330.02 325.83,322.27 342.26,316.94 375.10,315.97" fill="none" stroke="#3a55c8" stroke-width="0.8"/>
<circle cx="278.60" cy="373.12" r="1.90" fill="#3a55c8"/>
<circle cx="278.98" cy="369.25" r="1.90" fill="#3a55c8"/>
<circle cx="279.47" cy="365.38" r="1.90" fill="#3a55c8"/>
<circle cx="280.43" cy="359.08" r="1.90" fill="#3a55c8"/>
<circle cx="282.36" cy="357.62" r="1.90" fill="#3a55c8"/>
<circle cx="285.26" cy="357.62" r="1.90" fill="#3a55c8"/>
<circle cx="304.58" cy="330.02" r="1.90" fill="#3a55c8"/>
<circle cx="325.83" cy="322.27" r="1.90" fill="#3a55c8"/>
<circle cx="342.26" cy="316.94" r="1.90" fill="#3a55c8"/>
<circle cx="375.10" cy="315.97" r="1.90" fill="#3a55c8"/>
<polyline points="278.60,301.99 278.98,306.92 279.47,311.86 280.43,314.32 282.36,317.04 285.26,320.99 304.58,332.83 325.83,339.74 342.26,340.48 375.10,343.68" fill="none" stroke="#e8207a" stroke-width="0.8"/>
<polygon points="276.51,301.99 280.31,300.09 280.31,303.89" fill="#e8207a"/>
<polygon points="276.89,306.92 280.69,305.02 280.69,308.82" fill="#e8207a"/>
<polygon points="277.38,311.86 281.18,309.96 281.18,313.76" fill="#e8207a"/>
<polygon points="278.34,314.32 282.14,312.43 282.14,316.22" fill="#e8207a"/>
<polygon points="280.27,317.04 284.07,315.14 284.07,318.94" fill="#e8207a"/>
<polygon points="283.17,320.99 286.97,319.09 286.97,322.89" fill="#e8207a"/>
<polygon points="302.49,332.83 306.29,330.93 306.29,334.73" fill="#e8207a"/>
<polygon points="323.74,339.74 327.54,337.84 327.54,341.64" fill="#e8207a"/>
<polygon points="340.17,340.48 343.97,338.58 343.97,342.38" fill="#e8207a"/>
<polygon points="373.01,343.68 376.81,341.78 376.81,345.58" fill="#e8207a"/>
<polyline points="278.60,298.29 278.98,301.99 279.47,305.69 280.43,309.39 282.36,311.86 285.26,313.58 304.58,321.73 325.83,326.66 342.26,328.88 375.10,332.83" fill="none" stroke="#e8207a" stroke-width="0.8"/>
<rect x="276.70" y="296.39" width="3.80" height="3.80" fill="#e8207a"/>
<rect x="277.08" y="300.09" width="3.80" height="3.80" fill="#e8207a"/>
<rect x="277.57" y="303.79" width="3.80" height="3.80" fill="#e8207a"/>
<rect x="278.53" y="307.49" width="3.80" height="3.80" fill="#e8207a"/>
<rect x="280.46" y="309.96" width="3.80" height="3.80" fill="#e8207a"/>
<rect x="283.36" y="311.68" width="3.80" height="3.80" fill="#e8207a"/>
<rect x="302.68" y="319.83" width="3.80" height="3.80" fill="#e8207a"/>
<rect x="323.93" y="324.76" width="3.80" height="3.80" fill="#e8207a"/>
<rect x="340.36" y="326.98" width="3.80" height="3.80" fill="#e8207a"/>
<rect x="373.20" y="330.93" width="3.80" height="3.80" fill="#e8207a"/>
<polyline points="278.60,297.06 278.98,300.76 279.47,304.46 280.43,308.16 282.36,310.62 285.26,313.09 304.58,320.00 325.83,324.93 342.26,327.15 375.10,330.36" fill="none" stroke="#e8207a" stroke-width="0.8"/>
<circle cx="278.60" cy="297.06" r="1.90" fill="#e8207a"/>
<circle cx="278.98" cy="300.76" r="1.90" fill="#e8207a"/>
<circle cx="279.47" cy="304.46" r="1.90" fill="#e8207a"/>
<circle cx="280.43" cy="308.16" r="1.90" fill="#e8207a"/>
<circle cx="282.36" cy="310.62" r="1.90" fill="#e8207a"/>
<circle cx="285.26" cy="313.09" r="1.90" fill="#e8207a"/>
<circle cx="304.58" cy="320.00" r="1.90" fill="#e8207a"/>
<circle cx="325.83" cy="324.93" r="1.90" fill="#e8207a"/>
<circle cx="342.26" cy="327.15" r="1.90" fill="#e8207a"/>
<circle cx="375.10" cy="330.36" r="1.90" fill="#e8207a"/>
<line x1="288" y1="293.3" x2="300.6" y2="293.3" stroke="#3a55c8" stroke-width="0.8"/>
<polygon points="292.54,293.30 295.74,291.70 295.74,294.90" fill="#3a55c8"/>
<text x="302.50" y="295.30" text-anchor="start" style="font-family:'Liberation Serif',serif;font-weight:bold;font-size:6px" fill="#3a55c8"><tspan style="font-style:italic">I</tspan><tspan style="font-size:3.8px" dy="1.5">ph</tspan><tspan dy="-1.5"></tspan></text>
<line x1="288" y1="301.6" x2="300.6" y2="301.6" stroke="#3a55c8" stroke-width="0.8"/>
<rect x="292.70" y="300.00" width="3.20" height="3.20" fill="#3a55c8"/>
<text x="302.50" y="303.60" text-anchor="start" style="font-family:'Liberation Serif',serif;font-weight:bold;font-size:6px" fill="#3a55c8"><tspan style="font-style:italic">I</tspan><tspan style="font-size:3.8px" dy="1.5">py+ph</tspan><tspan dy="-1.5"></tspan></text>
<line x1="288" y1="309.90000000000003" x2="300.6" y2="309.90000000000003" stroke="#3a55c8" stroke-width="0.8"/>
<circle cx="294.30" cy="309.90" r="1.60" fill="#3a55c8"/>
<text x="302.50" y="311.90" text-anchor="start" style="font-family:'Liberation Serif',serif;font-weight:bold;font-size:6px" fill="#3a55c8"><tspan style="font-style:italic">I</tspan><tspan style="font-size:3.8px" dy="1.5">py+ph</tspan><tspan dy="-1.5"> - I<tspan style="font-size:3.6px" dy="1.5">py'</tspan></tspan></text>
<line x1="336.8" y1="293.3" x2="347.8" y2="293.3" stroke="#e8207a" stroke-width="0.8"/>
<polygon points="340.54,293.30 343.74,291.70 343.74,294.90" fill="#e8207a"/>
<text x="350.00" y="295.30" text-anchor="start" style="font-family:'Liberation Serif',serif;font-weight:bold;font-size:6px" fill="#e8207a"><tspan style="font-style:italic">R</tspan><tspan style="font-size:3.8px" dy="1.5">ph</tspan></text>
<line x1="336.8" y1="301.6" x2="347.8" y2="301.6" stroke="#e8207a" stroke-width="0.8"/>
<rect x="340.70" y="300.00" width="3.20" height="3.20" fill="#e8207a"/>
<text x="350.00" y="303.60" text-anchor="start" style="font-family:'Liberation Serif',serif;font-weight:bold;font-size:6px" fill="#e8207a"><tspan style="font-style:italic">R</tspan><tspan style="font-size:3.8px" dy="1.5">py+ph</tspan></text>
<line x1="336.8" y1="309.90000000000003" x2="347.8" y2="309.90000000000003" stroke="#e8207a" stroke-width="0.8"/>
<circle cx="342.30" cy="309.90" r="1.60" fill="#e8207a"/>
<text x="350.00" y="311.90" text-anchor="start" style="font-family:'Liberation Serif',serif;font-weight:bold;font-size:6px" fill="#e8207a"><tspan style="font-style:italic">R</tspan><tspan style="font-size:3.8px" dy="1.5">py+ph-py'</tspan></text>
<rect x="443.7" y="289.4" width="67.69999999999999" height="86.5" fill="none" stroke="#222" stroke-width="0.8"/>
<line x1="443.7" y1="369.60" x2="445.3" y2="369.60" stroke="#222" stroke-width="0.6"/>
<text x="441.10" y="371.50" text-anchor="end" style="font-family:'Liberation Serif',serif;font-weight:bold;font-size:5.6px" fill="#222">3.0</text>
<line x1="443.7" y1="352.85" x2="445.3" y2="352.85" stroke="#222" stroke-width="0.6"/>
<text x="441.10" y="354.75" text-anchor="end" style="font-family:'Liberation Serif',serif;font-weight:bold;font-size:5.6px" fill="#222">3.5</text>
<line x1="443.7" y1="336.10" x2="445.3" y2="336.10" stroke="#222" stroke-width="0.6"/>
<text x="441.10" y="338.00" text-anchor="end" style="font-family:'Liberation Serif',serif;font-weight:bold;font-size:5.6px" fill="#222">4.0</text>
<line x1="443.7" y1="319.35" x2="445.3" y2="319.35" stroke="#222" stroke-width="0.6"/>
<text x="441.10" y="321.25" text-anchor="end" style="font-family:'Liberation Serif',serif;font-weight:bold;font-size:5.6px" fill="#222">4.5</text>
<line x1="443.7" y1="302.60" x2="445.3" y2="302.60" stroke="#222" stroke-width="0.6"/>
<text x="441.10" y="304.50" text-anchor="end" style="font-family:'Liberation Serif',serif;font-weight:bold;font-size:5.6px" fill="#222">5.0</text>
<line x1="443.70" y1="375.9" x2="443.70" y2="374.29999999999995" stroke="#222" stroke-width="0.6"/>
<text x="443.70" y="384.30" text-anchor="middle" style="font-family:'Liberation Serif',serif;font-weight:bold;font-size:5.5px" fill="#222">0.00</text>
<line x1="454.30" y1="375.9" x2="454.30" y2="374.9" stroke="#222" stroke-width="0.6"/>
<line x1="464.90" y1="375.9" x2="464.90" y2="374.29999999999995" stroke="#222" stroke-width="0.6"/>
<text x="464.90" y="384.30" text-anchor="middle" style="font-family:'Liberation Serif',serif;font-weight:bold;font-size:5.5px" fill="#222">0.04</text>
<line x1="475.50" y1="375.9" x2="475.50" y2="374.9" stroke="#222" stroke-width="0.6"/>
<line x1="486.10" y1="375.9" x2="486.10" y2="374.29999999999995" stroke="#222" stroke-width="0.6"/>
<text x="486.10" y="384.30" text-anchor="middle" style="font-family:'Liberation Serif',serif;font-weight:bold;font-size:5.5px" fill="#222">0.08</text>
<line x1="496.70" y1="375.9" x2="496.70" y2="374.9" stroke="#222" stroke-width="0.6"/>
<line x1="507.30" y1="375.9" x2="507.30" y2="374.29999999999995" stroke="#222" stroke-width="0.6"/>
<text x="507.30" y="384.30" text-anchor="middle" style="font-family:'Liberation Serif',serif;font-weight:bold;font-size:5.5px" fill="#222">0.12</text>
<text x="476.00" y="395.30" text-anchor="middle" style="font-family:'Liberation Serif',serif;font-weight:bold;font-size:6.0px" fill="#222">Voltage (V)</text>
<text transform="translate(429.8,335.5) rotate(-90)" text-anchor="middle" style="font-family:'Liberation Serif',serif;font-weight:bold;font-size:5px" fill="#222">E</text>
<polyline points="449.00,370.61 454.30,366.92 464.90,362.90 486.10,310.98 496.70,321.03 507.30,341.80" fill="none" stroke="#1f3ae8" stroke-width="1.0"/>
<circle cx="449.00" cy="370.61" r="2.5" fill="#1f3ae8"/>
<circle cx="448.40" cy="370.00" r="0.8" fill="#8fa0ff"/>
<circle cx="454.30" cy="366.92" r="2.5" fill="#1f3ae8"/>
<circle cx="453.70" cy="366.32" r="0.8" fill="#8fa0ff"/>
<circle cx="464.90" cy="362.90" r="2.5" fill="#1f3ae8"/>
<circle cx="464.30" cy="362.30" r="0.8" fill="#8fa0ff"/>
<circle cx="486.10" cy="310.98" r="2.5" fill="#1f3ae8"/>
<circle cx="485.50" cy="310.38" r="0.8" fill="#8fa0ff"/>
<circle cx="496.70" cy="321.03" r="2.5" fill="#1f3ae8"/>
<circle cx="496.10" cy="320.43" r="0.8" fill="#8fa0ff"/>
<circle cx="507.30" cy="341.80" r="2.5" fill="#1f3ae8"/>
<circle cx="506.70" cy="341.19" r="0.8" fill="#8fa0ff"/>
<line x1="446.9" y1="294.2" x2="457.9" y2="294.2" stroke="#1f3ae8" stroke-width="1"/>
<circle cx="452.4" cy="294.2" r="2.4" fill="#1f3ae8"/>
<text x="459.00" y="296.40" text-anchor="start" style="font-family:'Liberation Serif',serif;font-weight:bold;font-size:6.4px" fill="#222">E=(<tspan style="font-style:italic">I</tspan><tspan style="font-size:4.6px" dy="1.6">py+ph</tspan><tspan dy="-1.6">)/</tspan><tspan style="font-style:italic">I</tspan><tspan style="font-size:4.6px" dy="1.6">ph</tspan></text>
<text x="8.20" y="21.40" text-anchor="start" style="font-family:'Liberation Sans',sans-serif;font-weight:bold;font-size:9.2px" fill="#111">(a)</text>
<text x="271.80" y="22.40" text-anchor="start" style="font-family:'Liberation Sans',sans-serif;font-weight:bold;font-size:9.5px" fill="#111">(b)</text>
<text x="8.00" y="171.80" text-anchor="start" style="font-family:'Liberation Sans',sans-serif;font-weight:bold;font-size:8.9px" fill="#111">(c)</text>
<text x="258.90" y="171.60" text-anchor="start" style="font-family:'Liberation Sans',sans-serif;font-weight:bold;font-size:9px" fill="#111">(d)</text>
<text x="398.20" y="171.60" text-anchor="start" style="font-family:'Liberation Sans',sans-serif;font-weight:bold;font-size:9px" fill="#111">(e)</text>
<text x="9.50" y="293.00" text-anchor="start" style="font-family:'Liberation Sans',sans-serif;font-weight:bold;font-size:9px" fill="#111">(f)</text>
<text x="236.40" y="290.00" text-anchor="start" style="font-family:'Liberation Sans',sans-serif;font-weight:bold;font-size:9px" fill="#111">(g)</text>
<text x="399.60" y="289.20" text-anchor="start" style="font-family:'Liberation Sans',sans-serif;font-weight:bold;font-size:9px" fill="#111">(h)</text></svg></body></html>
